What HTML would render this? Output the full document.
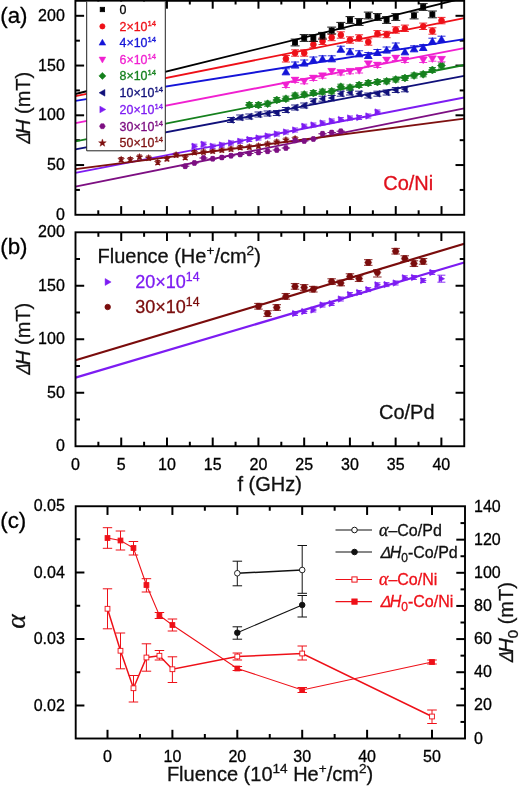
<!DOCTYPE html><html><head><meta charset="utf-8"><title>Figure</title><style>html,body{margin:0;padding:0;background:#fff}svg{display:block}text{font-family:"Liberation Sans", sans-serif;stroke-width:.3px}</style></head><body>
<svg width="520" height="786" viewBox="0 0 520 786">
<rect width="520" height="786" fill="#fff"/>
<clipPath id="ca"><rect x="75.40" y="0.00" width="388.80" height="214.80"/></clipPath>
<line x1="98.28" y1="214.80" x2="98.28" y2="210.30" stroke="#000" stroke-width="2" />
<line x1="98.28" y1="0.00" x2="98.28" y2="4.50" stroke="#000" stroke-width="2" />
<line x1="121.17" y1="214.80" x2="121.17" y2="206.10" stroke="#000" stroke-width="2" />
<line x1="121.17" y1="0.00" x2="121.17" y2="8.70" stroke="#000" stroke-width="2" />
<line x1="144.05" y1="214.80" x2="144.05" y2="210.30" stroke="#000" stroke-width="2" />
<line x1="144.05" y1="0.00" x2="144.05" y2="4.50" stroke="#000" stroke-width="2" />
<line x1="166.93" y1="214.80" x2="166.93" y2="206.10" stroke="#000" stroke-width="2" />
<line x1="166.93" y1="0.00" x2="166.93" y2="8.70" stroke="#000" stroke-width="2" />
<line x1="189.81" y1="214.80" x2="189.81" y2="210.30" stroke="#000" stroke-width="2" />
<line x1="189.81" y1="0.00" x2="189.81" y2="4.50" stroke="#000" stroke-width="2" />
<line x1="212.70" y1="214.80" x2="212.70" y2="206.10" stroke="#000" stroke-width="2" />
<line x1="212.70" y1="0.00" x2="212.70" y2="8.70" stroke="#000" stroke-width="2" />
<line x1="235.58" y1="214.80" x2="235.58" y2="210.30" stroke="#000" stroke-width="2" />
<line x1="235.58" y1="0.00" x2="235.58" y2="4.50" stroke="#000" stroke-width="2" />
<line x1="258.46" y1="214.80" x2="258.46" y2="206.10" stroke="#000" stroke-width="2" />
<line x1="258.46" y1="0.00" x2="258.46" y2="8.70" stroke="#000" stroke-width="2" />
<line x1="281.34" y1="214.80" x2="281.34" y2="210.30" stroke="#000" stroke-width="2" />
<line x1="281.34" y1="0.00" x2="281.34" y2="4.50" stroke="#000" stroke-width="2" />
<line x1="304.23" y1="214.80" x2="304.23" y2="206.10" stroke="#000" stroke-width="2" />
<line x1="304.23" y1="0.00" x2="304.23" y2="8.70" stroke="#000" stroke-width="2" />
<line x1="327.11" y1="214.80" x2="327.11" y2="210.30" stroke="#000" stroke-width="2" />
<line x1="327.11" y1="0.00" x2="327.11" y2="4.50" stroke="#000" stroke-width="2" />
<line x1="349.99" y1="214.80" x2="349.99" y2="206.10" stroke="#000" stroke-width="2" />
<line x1="349.99" y1="0.00" x2="349.99" y2="8.70" stroke="#000" stroke-width="2" />
<line x1="372.87" y1="214.80" x2="372.87" y2="210.30" stroke="#000" stroke-width="2" />
<line x1="372.87" y1="0.00" x2="372.87" y2="4.50" stroke="#000" stroke-width="2" />
<line x1="395.75" y1="214.80" x2="395.75" y2="206.10" stroke="#000" stroke-width="2" />
<line x1="395.75" y1="0.00" x2="395.75" y2="8.70" stroke="#000" stroke-width="2" />
<line x1="418.64" y1="214.80" x2="418.64" y2="210.30" stroke="#000" stroke-width="2" />
<line x1="418.64" y1="0.00" x2="418.64" y2="4.50" stroke="#000" stroke-width="2" />
<line x1="441.52" y1="214.80" x2="441.52" y2="206.10" stroke="#000" stroke-width="2" />
<line x1="441.52" y1="0.00" x2="441.52" y2="8.70" stroke="#000" stroke-width="2" />
<line x1="75.40" y1="189.93" x2="79.90" y2="189.93" stroke="#000" stroke-width="2" />
<line x1="464.20" y1="189.93" x2="459.70" y2="189.93" stroke="#000" stroke-width="2" />
<line x1="75.40" y1="165.05" x2="84.10" y2="165.05" stroke="#000" stroke-width="2" />
<line x1="464.20" y1="165.05" x2="455.50" y2="165.05" stroke="#000" stroke-width="2" />
<line x1="75.40" y1="140.18" x2="79.90" y2="140.18" stroke="#000" stroke-width="2" />
<line x1="464.20" y1="140.18" x2="459.70" y2="140.18" stroke="#000" stroke-width="2" />
<line x1="75.40" y1="115.30" x2="84.10" y2="115.30" stroke="#000" stroke-width="2" />
<line x1="464.20" y1="115.30" x2="455.50" y2="115.30" stroke="#000" stroke-width="2" />
<line x1="75.40" y1="90.43" x2="79.90" y2="90.43" stroke="#000" stroke-width="2" />
<line x1="464.20" y1="90.43" x2="459.70" y2="90.43" stroke="#000" stroke-width="2" />
<line x1="75.40" y1="65.55" x2="84.10" y2="65.55" stroke="#000" stroke-width="2" />
<line x1="464.20" y1="65.55" x2="455.50" y2="65.55" stroke="#000" stroke-width="2" />
<line x1="75.40" y1="40.68" x2="79.90" y2="40.68" stroke="#000" stroke-width="2" />
<line x1="464.20" y1="40.68" x2="459.70" y2="40.68" stroke="#000" stroke-width="2" />
<line x1="75.40" y1="15.80" x2="84.10" y2="15.80" stroke="#000" stroke-width="2" />
<line x1="464.20" y1="15.80" x2="455.50" y2="15.80" stroke="#000" stroke-width="2" />
<g clip-path="url(#ca)">
<line x1="75.40" y1="94.00" x2="464.20" y2="-2.00" stroke="#000000" stroke-width="1.85" />
<line x1="75.40" y1="96.20" x2="464.20" y2="18.20" stroke="#ee1018" stroke-width="1.85" />
<line x1="75.40" y1="100.90" x2="464.20" y2="39.10" stroke="#1414d8" stroke-width="1.85" />
<line x1="75.40" y1="123.10" x2="464.20" y2="48.20" stroke="#f020d0" stroke-width="1.85" />
<line x1="75.40" y1="141.30" x2="464.20" y2="65.00" stroke="#15801d" stroke-width="1.85" />
<line x1="75.40" y1="149.40" x2="464.20" y2="75.80" stroke="#10107a" stroke-width="1.85" />
<line x1="75.40" y1="172.90" x2="464.20" y2="97.50" stroke="#7d1cf2" stroke-width="1.85" />
<line x1="75.40" y1="186.60" x2="464.20" y2="108.30" stroke="#7d0f82" stroke-width="1.85" />
<line x1="75.40" y1="169.20" x2="464.20" y2="118.70" stroke="#7e1010" stroke-width="1.85" />
</g>
<path d="M121.2 157.5V161.5M118.7 157.5H123.7M118.7 161.5H123.7" stroke="#7e1010" stroke-width="0.9" fill="none"/>
<path d="M130.3 157.5V161.5M127.8 157.5H132.8M127.8 161.5H132.8" stroke="#7e1010" stroke-width="0.9" fill="none"/>
<path d="M139.5 155.0V159.0M137.0 155.0H142.0M137.0 159.0H142.0" stroke="#7e1010" stroke-width="0.9" fill="none"/>
<path d="M148.6 156.0V160.0M146.1 156.0H151.1M146.1 160.0H151.1" stroke="#7e1010" stroke-width="0.9" fill="none"/>
<path d="M157.8 160.5V164.5M155.3 160.5H160.3M155.3 164.5H160.3" stroke="#7e1010" stroke-width="0.9" fill="none"/>
<path d="M166.9 156.8V160.8M164.4 156.8H169.4M164.4 160.8H169.4" stroke="#7e1010" stroke-width="0.9" fill="none"/>
<path d="M176.1 153.0V157.0M173.6 153.0H178.6M173.6 157.0H178.6" stroke="#7e1010" stroke-width="0.9" fill="none"/>
<path d="M185.2 155.5V159.5M182.7 155.5H187.7M182.7 159.5H187.7" stroke="#7e1010" stroke-width="0.9" fill="none"/>
<path d="M194.4 150.5V154.5M191.9 150.5H196.9M191.9 154.5H196.9" stroke="#7e1010" stroke-width="0.9" fill="none"/>
<path d="M203.5 150.0V154.0M201.0 150.0H206.0M201.0 154.0H206.0" stroke="#7e1010" stroke-width="0.9" fill="none"/>
<path d="M212.7 149.0V153.0M210.2 149.0H215.2M210.2 153.0H215.2" stroke="#7e1010" stroke-width="0.9" fill="none"/>
<path d="M221.8 148.0V152.0M219.3 148.0H224.3M219.3 152.0H224.3" stroke="#7e1010" stroke-width="0.9" fill="none"/>
<path d="M231.0 147.0V151.0M228.5 147.0H233.5M228.5 151.0H233.5" stroke="#7e1010" stroke-width="0.9" fill="none"/>
<path d="M240.2 145.5V149.5M237.7 145.5H242.7M237.7 149.5H242.7" stroke="#7e1010" stroke-width="0.9" fill="none"/>
<path d="M249.3 145.0V149.0M246.8 145.0H251.8M246.8 149.0H251.8" stroke="#7e1010" stroke-width="0.9" fill="none"/>
<path d="M258.5 144.0V148.0M256.0 144.0H261.0M256.0 148.0H261.0" stroke="#7e1010" stroke-width="0.9" fill="none"/>
<path d="M267.6 142.0V146.0M265.1 142.0H270.1M265.1 146.0H270.1" stroke="#7e1010" stroke-width="0.9" fill="none"/>
<path d="M276.8 140.0V144.0M274.3 140.0H279.3M274.3 144.0H279.3" stroke="#7e1010" stroke-width="0.9" fill="none"/>
<path d="M285.9 138.0V142.0M283.4 138.0H288.4M283.4 142.0H288.4" stroke="#7e1010" stroke-width="0.9" fill="none"/>
<path d="M295.1 136.8V140.8M292.6 136.8H297.6M292.6 140.8H297.6" stroke="#7e1010" stroke-width="0.9" fill="none"/>
<polygon points="121.17,155.91 122.04,158.30 124.58,158.39 122.57,159.96 123.27,162.40 121.17,160.98 119.06,162.40 119.76,159.96 117.75,158.39 120.29,158.30" fill="#7e1010" stroke="#7e1010" stroke-width="0.4"/>
<polygon points="130.32,155.91 131.19,158.30 133.73,158.39 131.73,159.96 132.43,162.40 130.32,160.98 128.21,162.40 128.91,159.96 126.91,158.39 129.45,158.30" fill="#7e1010" stroke="#7e1010" stroke-width="0.4"/>
<polygon points="139.47,153.41 140.34,155.80 142.88,155.89 140.88,157.46 141.58,159.90 139.47,158.48 137.36,159.90 138.06,157.46 136.06,155.89 138.60,155.80" fill="#7e1010" stroke="#7e1010" stroke-width="0.4"/>
<polygon points="148.62,154.41 149.50,156.80 152.04,156.89 150.03,158.46 150.73,160.90 148.62,159.48 146.52,160.90 147.21,158.46 145.21,156.89 147.75,156.80" fill="#7e1010" stroke="#7e1010" stroke-width="0.4"/>
<polygon points="157.78,158.91 158.65,161.30 161.19,161.39 159.19,162.96 159.89,165.40 157.78,163.98 155.67,165.40 156.37,162.96 154.36,161.39 156.91,161.30" fill="#7e1010" stroke="#7e1010" stroke-width="0.4"/>
<polygon points="166.93,155.16 167.80,157.55 170.34,157.64 168.34,159.21 169.04,161.65 166.93,160.23 164.82,161.65 165.52,159.21 163.52,157.64 166.06,157.55" fill="#7e1010" stroke="#7e1010" stroke-width="0.4"/>
<polygon points="176.08,151.41 176.95,153.80 179.50,153.89 177.49,155.46 178.19,157.90 176.08,156.48 173.97,157.90 174.67,155.46 172.67,153.89 175.21,153.80" fill="#7e1010" stroke="#7e1010" stroke-width="0.4"/>
<polygon points="185.24,153.91 186.11,156.30 188.65,156.39 186.65,157.96 187.34,160.40 185.24,158.98 183.13,160.40 183.83,157.96 181.82,156.39 184.36,156.30" fill="#7e1010" stroke="#7e1010" stroke-width="0.4"/>
<polygon points="194.39,148.91 195.26,151.30 197.80,151.39 195.80,152.96 196.50,155.40 194.39,153.98 192.28,155.40 192.98,152.96 190.98,151.39 193.52,151.30" fill="#7e1010" stroke="#7e1010" stroke-width="0.4"/>
<polygon points="203.54,148.41 204.41,150.80 206.95,150.89 204.95,152.46 205.65,154.90 203.54,153.48 201.43,154.90 202.13,152.46 200.13,150.89 202.67,150.80" fill="#7e1010" stroke="#7e1010" stroke-width="0.4"/>
<polygon points="212.70,147.41 213.57,149.80 216.11,149.89 214.10,151.46 214.80,153.90 212.70,152.48 210.59,153.90 211.29,151.46 209.28,149.89 211.82,149.80" fill="#7e1010" stroke="#7e1010" stroke-width="0.4"/>
<polygon points="221.85,146.41 222.72,148.80 225.26,148.89 223.26,150.46 223.96,152.90 221.85,151.48 219.74,152.90 220.44,150.46 218.44,148.89 220.98,148.80" fill="#7e1010" stroke="#7e1010" stroke-width="0.4"/>
<polygon points="231.00,145.41 231.87,147.80 234.41,147.89 232.41,149.46 233.11,151.90 231.00,150.48 228.89,151.90 229.59,149.46 227.59,147.89 230.13,147.80" fill="#7e1010" stroke="#7e1010" stroke-width="0.4"/>
<polygon points="240.15,143.91 241.03,146.30 243.57,146.39 241.56,147.96 242.26,150.40 240.15,148.98 238.05,150.40 238.74,147.96 236.74,146.39 239.28,146.30" fill="#7e1010" stroke="#7e1010" stroke-width="0.4"/>
<polygon points="249.31,143.41 250.18,145.80 252.72,145.89 250.72,147.46 251.42,149.90 249.31,148.48 247.20,149.90 247.90,147.46 245.89,145.89 248.44,145.80" fill="#7e1010" stroke="#7e1010" stroke-width="0.4"/>
<polygon points="258.46,142.41 259.33,144.80 261.87,144.89 259.87,146.46 260.57,148.90 258.46,147.48 256.35,148.90 257.05,146.46 255.05,144.89 257.59,144.80" fill="#7e1010" stroke="#7e1010" stroke-width="0.4"/>
<polygon points="267.61,140.41 268.48,142.80 271.03,142.89 269.02,144.46 269.72,146.90 267.61,145.48 265.50,146.90 266.20,144.46 264.20,142.89 266.74,142.80" fill="#7e1010" stroke="#7e1010" stroke-width="0.4"/>
<polygon points="276.77,138.41 277.64,140.80 280.18,140.89 278.18,142.46 278.87,144.90 276.77,143.48 274.66,144.90 275.36,142.46 273.35,140.89 275.89,140.80" fill="#7e1010" stroke="#7e1010" stroke-width="0.4"/>
<polygon points="285.92,136.41 286.79,138.80 289.33,138.89 287.33,140.46 288.03,142.90 285.92,141.48 283.81,142.90 284.51,140.46 282.51,138.89 285.05,138.80" fill="#7e1010" stroke="#7e1010" stroke-width="0.4"/>
<polygon points="295.07,135.16 295.94,137.55 298.48,137.64 296.48,139.21 297.18,141.65 295.07,140.23 292.96,141.65 293.66,139.21 291.66,137.64 294.20,137.55" fill="#7e1010" stroke="#7e1010" stroke-width="0.4"/>
<path d="M185.2 164.4V168.1M183.2 164.4H187.2M183.2 168.1H187.2" stroke="#7d0f82" stroke-width="0.9" fill="none"/>
<path d="M181.0 166.2H189.4M181.0 166.2V166.2M189.4 166.2V166.2" stroke="#7d0f82" stroke-width="1.0" fill="none"/>
<path d="M194.4 161.2V164.8M192.4 161.2H196.4M192.4 164.8H196.4" stroke="#7d0f82" stroke-width="0.9" fill="none"/>
<path d="M190.2 163.0H198.6M190.2 163.0V163.0M198.6 163.0V163.0" stroke="#7d0f82" stroke-width="1.0" fill="none"/>
<path d="M203.5 156.2V159.8M201.5 156.2H205.5M201.5 159.8H205.5" stroke="#7d0f82" stroke-width="0.9" fill="none"/>
<path d="M199.3 158.0H207.7M199.3 158.0V158.0M207.7 158.0V158.0" stroke="#7d0f82" stroke-width="1.0" fill="none"/>
<path d="M212.7 156.9V160.6M210.7 156.9H214.7M210.7 160.6H214.7" stroke="#7d0f82" stroke-width="0.9" fill="none"/>
<path d="M208.5 158.8H216.9M208.5 158.8V158.8M216.9 158.8V158.8" stroke="#7d0f82" stroke-width="1.0" fill="none"/>
<path d="M221.8 155.7V159.3M219.8 155.7H223.8M219.8 159.3H223.8" stroke="#7d0f82" stroke-width="0.9" fill="none"/>
<path d="M217.6 157.5H226.0M217.6 157.5V157.5M226.0 157.5V157.5" stroke="#7d0f82" stroke-width="1.0" fill="none"/>
<path d="M231.0 153.9V157.6M229.0 153.9H233.0M229.0 157.6H233.0" stroke="#7d0f82" stroke-width="0.9" fill="none"/>
<path d="M226.8 155.8H235.2M226.8 155.8V155.8M235.2 155.8V155.8" stroke="#7d0f82" stroke-width="1.0" fill="none"/>
<path d="M240.2 152.7V156.3M238.2 152.7H242.2M238.2 156.3H242.2" stroke="#7d0f82" stroke-width="0.9" fill="none"/>
<path d="M236.0 154.5H244.4M236.0 154.5V154.5M244.4 154.5V154.5" stroke="#7d0f82" stroke-width="1.0" fill="none"/>
<path d="M249.3 151.7V155.3M247.3 151.7H251.3M247.3 155.3H251.3" stroke="#7d0f82" stroke-width="0.9" fill="none"/>
<path d="M245.1 153.5H253.5M245.1 153.5V153.5M253.5 153.5V153.5" stroke="#7d0f82" stroke-width="1.0" fill="none"/>
<path d="M258.5 150.7V154.3M256.5 150.7H260.5M256.5 154.3H260.5" stroke="#7d0f82" stroke-width="0.9" fill="none"/>
<path d="M254.3 152.5H262.7M254.3 152.5V152.5M262.7 152.5V152.5" stroke="#7d0f82" stroke-width="1.0" fill="none"/>
<path d="M267.6 149.4V153.1M265.6 149.4H269.6M265.6 153.1H269.6" stroke="#7d0f82" stroke-width="0.9" fill="none"/>
<path d="M263.4 151.2H271.8M263.4 151.2V151.2M271.8 151.2V151.2" stroke="#7d0f82" stroke-width="1.0" fill="none"/>
<path d="M276.8 148.2V151.8M274.8 148.2H278.8M274.8 151.8H278.8" stroke="#7d0f82" stroke-width="0.9" fill="none"/>
<path d="M272.6 150.0H281.0M272.6 150.0V150.0M281.0 150.0V150.0" stroke="#7d0f82" stroke-width="1.0" fill="none"/>
<path d="M285.9 146.2V149.8M283.9 146.2H287.9M283.9 149.8H287.9" stroke="#7d0f82" stroke-width="0.9" fill="none"/>
<path d="M281.7 148.0H290.1M281.7 148.0V148.0M290.1 148.0V148.0" stroke="#7d0f82" stroke-width="1.0" fill="none"/>
<path d="M295.1 138.7V142.3M293.1 138.7H297.1M293.1 142.3H297.1" stroke="#7d0f82" stroke-width="0.9" fill="none"/>
<path d="M290.9 140.5H299.3M290.9 140.5V140.5M299.3 140.5V140.5" stroke="#7d0f82" stroke-width="1.0" fill="none"/>
<path d="M304.2 139.2V142.8M302.2 139.2H306.2M302.2 142.8H306.2" stroke="#7d0f82" stroke-width="0.9" fill="none"/>
<path d="M300.0 141.0H308.4M300.0 141.0V141.0M308.4 141.0V141.0" stroke="#7d0f82" stroke-width="1.0" fill="none"/>
<path d="M313.4 137.2V140.8M311.4 137.2H315.4M311.4 140.8H315.4" stroke="#7d0f82" stroke-width="0.9" fill="none"/>
<path d="M309.2 139.0H317.6M309.2 139.0V139.0M317.6 139.0V139.0" stroke="#7d0f82" stroke-width="1.0" fill="none"/>
<path d="M322.5 131.9V135.6M320.5 131.9H324.5M320.5 135.6H324.5" stroke="#7d0f82" stroke-width="0.9" fill="none"/>
<path d="M318.3 133.8H326.7M318.3 133.8V133.8M326.7 133.8V133.8" stroke="#7d0f82" stroke-width="1.0" fill="none"/>
<path d="M331.7 130.7V134.3M329.7 130.7H333.7M329.7 134.3H333.7" stroke="#7d0f82" stroke-width="0.9" fill="none"/>
<path d="M327.5 132.5H335.9M327.5 132.5V132.5M335.9 132.5V132.5" stroke="#7d0f82" stroke-width="1.0" fill="none"/>
<path d="M340.8 129.4V133.1M338.8 129.4H342.8M338.8 133.1H342.8" stroke="#7d0f82" stroke-width="0.9" fill="none"/>
<path d="M336.6 131.2H345.0M336.6 131.2V131.2M345.0 131.2V131.2" stroke="#7d0f82" stroke-width="1.0" fill="none"/>
<polygon points="188.04,166.25 186.64,168.68 183.83,168.68 182.43,166.25 183.83,163.82 186.64,163.82" fill="#7d0f82" stroke="#7d0f82" stroke-width="0.5"/>
<polygon points="197.19,163.00 195.79,165.43 192.99,165.43 191.58,163.00 192.99,160.57 195.79,160.57" fill="#7d0f82" stroke="#7d0f82" stroke-width="0.5"/>
<polygon points="206.35,158.00 204.94,160.43 202.14,160.43 200.74,158.00 202.14,155.57 204.94,155.57" fill="#7d0f82" stroke="#7d0f82" stroke-width="0.5"/>
<polygon points="215.50,158.75 214.10,161.18 211.29,161.18 209.89,158.75 211.29,156.32 214.10,156.32" fill="#7d0f82" stroke="#7d0f82" stroke-width="0.5"/>
<polygon points="224.65,157.50 223.25,159.93 220.45,159.93 219.04,157.50 220.45,155.07 223.25,155.07" fill="#7d0f82" stroke="#7d0f82" stroke-width="0.5"/>
<polygon points="233.81,155.75 232.40,158.18 229.60,158.18 228.20,155.75 229.60,153.32 232.40,153.32" fill="#7d0f82" stroke="#7d0f82" stroke-width="0.5"/>
<polygon points="242.96,154.50 241.56,156.93 238.75,156.93 237.35,154.50 238.75,152.07 241.56,152.07" fill="#7d0f82" stroke="#7d0f82" stroke-width="0.5"/>
<polygon points="252.11,153.50 250.71,155.93 247.90,155.93 246.50,153.50 247.90,151.07 250.71,151.07" fill="#7d0f82" stroke="#7d0f82" stroke-width="0.5"/>
<polygon points="261.27,152.50 259.86,154.93 257.06,154.93 255.66,152.50 257.06,150.07 259.86,150.07" fill="#7d0f82" stroke="#7d0f82" stroke-width="0.5"/>
<polygon points="270.42,151.25 269.02,153.68 266.21,153.68 264.81,151.25 266.21,148.82 269.02,148.82" fill="#7d0f82" stroke="#7d0f82" stroke-width="0.5"/>
<polygon points="279.57,150.00 278.17,152.43 275.36,152.43 273.96,150.00 275.36,147.57 278.17,147.57" fill="#7d0f82" stroke="#7d0f82" stroke-width="0.5"/>
<polygon points="288.72,148.00 287.32,150.43 284.52,150.43 283.11,148.00 284.52,145.57 287.32,145.57" fill="#7d0f82" stroke="#7d0f82" stroke-width="0.5"/>
<polygon points="297.88,140.50 296.47,142.93 293.67,142.93 292.27,140.50 293.67,138.07 296.47,138.07" fill="#7d0f82" stroke="#7d0f82" stroke-width="0.5"/>
<polygon points="307.03,141.00 305.63,143.43 302.82,143.43 301.42,141.00 302.82,138.57 305.63,138.57" fill="#7d0f82" stroke="#7d0f82" stroke-width="0.5"/>
<polygon points="316.18,139.00 314.78,141.43 311.98,141.43 310.57,139.00 311.98,136.57 314.78,136.57" fill="#7d0f82" stroke="#7d0f82" stroke-width="0.5"/>
<polygon points="325.34,133.75 323.93,136.18 321.13,136.18 319.73,133.75 321.13,131.32 323.93,131.32" fill="#7d0f82" stroke="#7d0f82" stroke-width="0.5"/>
<polygon points="334.49,132.50 333.09,134.93 330.28,134.93 328.88,132.50 330.28,130.07 333.09,130.07" fill="#7d0f82" stroke="#7d0f82" stroke-width="0.5"/>
<polygon points="343.64,131.25 342.24,133.68 339.43,133.68 338.03,131.25 339.43,128.82 342.24,128.82" fill="#7d0f82" stroke="#7d0f82" stroke-width="0.5"/>
<path d="M194.4 144.2V148.2M191.4 144.2H197.4M191.4 148.2H197.4" stroke="#7d1cf2" stroke-width="0.9" fill="none"/>
<path d="M203.5 142.2V146.2M200.5 142.2H206.5M200.5 146.2H206.5" stroke="#7d1cf2" stroke-width="0.9" fill="none"/>
<path d="M212.7 144.2V148.2M209.7 144.2H215.7M209.7 148.2H215.7" stroke="#7d1cf2" stroke-width="0.9" fill="none"/>
<path d="M221.8 143.0V147.0M218.8 143.0H224.8M218.8 147.0H224.8" stroke="#7d1cf2" stroke-width="0.9" fill="none"/>
<path d="M231.0 141.0V145.0M228.0 141.0H234.0M228.0 145.0H234.0" stroke="#7d1cf2" stroke-width="0.9" fill="none"/>
<path d="M240.2 139.2V143.2M237.2 139.2H243.2M237.2 143.2H243.2" stroke="#7d1cf2" stroke-width="0.9" fill="none"/>
<path d="M249.3 137.5V141.5M246.3 137.5H252.3M246.3 141.5H252.3" stroke="#7d1cf2" stroke-width="0.9" fill="none"/>
<path d="M258.5 136.0V140.0M255.5 136.0H261.5M255.5 140.0H261.5" stroke="#7d1cf2" stroke-width="0.9" fill="none"/>
<path d="M267.6 134.0V138.0M264.6 134.0H270.6M264.6 138.0H270.6" stroke="#7d1cf2" stroke-width="0.9" fill="none"/>
<path d="M276.8 132.0V136.0M273.8 132.0H279.8M273.8 136.0H279.8" stroke="#7d1cf2" stroke-width="0.9" fill="none"/>
<path d="M285.9 130.0V134.0M282.9 130.0H288.9M282.9 134.0H288.9" stroke="#7d1cf2" stroke-width="0.9" fill="none"/>
<path d="M295.1 128.0V132.0M292.1 128.0H298.1M292.1 132.0H298.1" stroke="#7d1cf2" stroke-width="0.9" fill="none"/>
<path d="M304.2 124.2V128.2M301.2 124.2H307.2M301.2 128.2H307.2" stroke="#7d1cf2" stroke-width="0.9" fill="none"/>
<path d="M313.4 123.0V127.0M310.4 123.0H316.4M310.4 127.0H316.4" stroke="#7d1cf2" stroke-width="0.9" fill="none"/>
<path d="M322.5 121.0V125.0M319.5 121.0H325.5M319.5 125.0H325.5" stroke="#7d1cf2" stroke-width="0.9" fill="none"/>
<path d="M331.7 119.0V123.0M328.7 119.0H334.7M328.7 123.0H334.7" stroke="#7d1cf2" stroke-width="0.9" fill="none"/>
<path d="M340.8 117.5V121.5M337.8 117.5H343.8M337.8 121.5H343.8" stroke="#7d1cf2" stroke-width="0.9" fill="none"/>
<path d="M350.0 116.0V120.0M347.0 116.0H353.0M347.0 120.0H353.0" stroke="#7d1cf2" stroke-width="0.9" fill="none"/>
<path d="M359.1 115.5V119.5M356.1 115.5H362.1M356.1 119.5H362.1" stroke="#7d1cf2" stroke-width="0.9" fill="none"/>
<path d="M368.3 114.0V118.0M365.3 114.0H371.3M365.3 118.0H371.3" stroke="#7d1cf2" stroke-width="0.9" fill="none"/>
<path d="M377.4 110.0V114.0M374.4 110.0H380.4M374.4 114.0H380.4" stroke="#7d1cf2" stroke-width="0.9" fill="none"/>
<polygon points="197.62,146.25 191.97,143.02 191.97,149.48" fill="#7d1cf2" stroke="#7d1cf2" stroke-width="0.5"/>
<polygon points="206.77,144.25 201.12,141.02 201.12,147.48" fill="#7d1cf2" stroke="#7d1cf2" stroke-width="0.5"/>
<polygon points="215.93,146.25 210.27,143.02 210.27,149.48" fill="#7d1cf2" stroke="#7d1cf2" stroke-width="0.5"/>
<polygon points="225.08,145.00 219.43,141.77 219.43,148.23" fill="#7d1cf2" stroke="#7d1cf2" stroke-width="0.5"/>
<polygon points="234.23,143.00 228.58,139.77 228.58,146.23" fill="#7d1cf2" stroke="#7d1cf2" stroke-width="0.5"/>
<polygon points="243.38,141.25 237.73,138.02 237.73,144.48" fill="#7d1cf2" stroke="#7d1cf2" stroke-width="0.5"/>
<polygon points="252.54,139.50 246.88,136.27 246.88,142.73" fill="#7d1cf2" stroke="#7d1cf2" stroke-width="0.5"/>
<polygon points="261.69,138.00 256.04,134.77 256.04,141.23" fill="#7d1cf2" stroke="#7d1cf2" stroke-width="0.5"/>
<polygon points="270.84,136.00 265.19,132.77 265.19,139.23" fill="#7d1cf2" stroke="#7d1cf2" stroke-width="0.5"/>
<polygon points="280.00,134.00 274.34,130.77 274.34,137.23" fill="#7d1cf2" stroke="#7d1cf2" stroke-width="0.5"/>
<polygon points="289.15,132.00 283.50,128.77 283.50,135.23" fill="#7d1cf2" stroke="#7d1cf2" stroke-width="0.5"/>
<polygon points="298.30,130.00 292.65,126.77 292.65,133.23" fill="#7d1cf2" stroke="#7d1cf2" stroke-width="0.5"/>
<polygon points="307.46,126.25 301.80,123.02 301.80,129.48" fill="#7d1cf2" stroke="#7d1cf2" stroke-width="0.5"/>
<polygon points="316.61,125.00 310.96,121.77 310.96,128.23" fill="#7d1cf2" stroke="#7d1cf2" stroke-width="0.5"/>
<polygon points="325.76,123.00 320.11,119.77 320.11,126.23" fill="#7d1cf2" stroke="#7d1cf2" stroke-width="0.5"/>
<polygon points="334.91,121.00 329.26,117.77 329.26,124.23" fill="#7d1cf2" stroke="#7d1cf2" stroke-width="0.5"/>
<polygon points="344.07,119.50 338.41,116.27 338.41,122.73" fill="#7d1cf2" stroke="#7d1cf2" stroke-width="0.5"/>
<polygon points="353.22,118.00 347.57,114.77 347.57,121.23" fill="#7d1cf2" stroke="#7d1cf2" stroke-width="0.5"/>
<polygon points="362.37,117.50 356.72,114.27 356.72,120.73" fill="#7d1cf2" stroke="#7d1cf2" stroke-width="0.5"/>
<polygon points="371.53,116.00 365.87,112.77 365.87,119.23" fill="#7d1cf2" stroke="#7d1cf2" stroke-width="0.5"/>
<polygon points="380.68,112.00 375.03,108.77 375.03,115.23" fill="#7d1cf2" stroke="#7d1cf2" stroke-width="0.5"/>
<path d="M231.0 117.5V122.5M227.0 117.5H235.0M227.0 122.5H235.0" stroke="#10107a" stroke-width="0.9" fill="none"/>
<path d="M240.2 115.0V120.0M236.2 115.0H244.2M236.2 120.0H244.2" stroke="#10107a" stroke-width="0.9" fill="none"/>
<path d="M249.3 114.0V119.0M245.3 114.0H253.3M245.3 119.0H253.3" stroke="#10107a" stroke-width="0.9" fill="none"/>
<path d="M258.5 112.0V117.0M254.5 112.0H262.5M254.5 117.0H262.5" stroke="#10107a" stroke-width="0.9" fill="none"/>
<path d="M267.6 111.0V116.0M263.6 111.0H271.6M263.6 116.0H271.6" stroke="#10107a" stroke-width="0.9" fill="none"/>
<path d="M276.8 110.5V115.5M272.8 110.5H280.8M272.8 115.5H280.8" stroke="#10107a" stroke-width="0.9" fill="none"/>
<path d="M285.9 107.5V112.5M281.9 107.5H289.9M281.9 112.5H289.9" stroke="#10107a" stroke-width="0.9" fill="none"/>
<path d="M295.1 105.0V110.0M291.1 105.0H299.1M291.1 110.0H299.1" stroke="#10107a" stroke-width="0.9" fill="none"/>
<path d="M304.2 103.0V108.0M300.2 103.0H308.2M300.2 108.0H308.2" stroke="#10107a" stroke-width="0.9" fill="none"/>
<path d="M313.4 98.8V103.8M309.4 98.8H317.4M309.4 103.8H317.4" stroke="#10107a" stroke-width="0.9" fill="none"/>
<path d="M322.5 96.2V101.2M318.5 96.2H326.5M318.5 101.2H326.5" stroke="#10107a" stroke-width="0.9" fill="none"/>
<path d="M331.7 95.5V100.5M327.7 95.5H335.7M327.7 100.5H335.7" stroke="#10107a" stroke-width="0.9" fill="none"/>
<path d="M340.8 91.2V96.2M336.8 91.2H344.8M336.8 96.2H344.8" stroke="#10107a" stroke-width="0.9" fill="none"/>
<path d="M350.0 90.0V95.0M346.0 90.0H354.0M346.0 95.0H354.0" stroke="#10107a" stroke-width="0.9" fill="none"/>
<path d="M359.1 91.2V96.2M355.1 91.2H363.1M355.1 96.2H363.1" stroke="#10107a" stroke-width="0.9" fill="none"/>
<path d="M368.3 93.0V98.0M364.3 93.0H372.3M364.3 98.0H372.3" stroke="#10107a" stroke-width="0.9" fill="none"/>
<path d="M377.4 91.2V96.2M373.4 91.2H381.4M373.4 96.2H381.4" stroke="#10107a" stroke-width="0.9" fill="none"/>
<path d="M386.6 90.0V95.0M382.6 90.0H390.6M382.6 95.0H390.6" stroke="#10107a" stroke-width="0.9" fill="none"/>
<path d="M395.8 87.5V92.5M391.8 87.5H399.8M391.8 92.5H399.8" stroke="#10107a" stroke-width="0.9" fill="none"/>
<path d="M404.9 86.8V91.8M400.9 86.8H408.9M400.9 91.8H408.9" stroke="#10107a" stroke-width="0.9" fill="none"/>
<polygon points="227.66,120.00 233.51,116.66 233.51,123.34" fill="#10107a" stroke="#10107a" stroke-width="0.5"/>
<polygon points="236.81,117.50 242.66,114.16 242.66,120.84" fill="#10107a" stroke="#10107a" stroke-width="0.5"/>
<polygon points="245.96,116.50 251.82,113.16 251.82,119.84" fill="#10107a" stroke="#10107a" stroke-width="0.5"/>
<polygon points="255.12,114.50 260.97,111.16 260.97,117.84" fill="#10107a" stroke="#10107a" stroke-width="0.5"/>
<polygon points="264.27,113.50 270.12,110.16 270.12,116.84" fill="#10107a" stroke="#10107a" stroke-width="0.5"/>
<polygon points="273.42,113.00 279.27,109.66 279.27,116.34" fill="#10107a" stroke="#10107a" stroke-width="0.5"/>
<polygon points="282.57,110.00 288.43,106.66 288.43,113.34" fill="#10107a" stroke="#10107a" stroke-width="0.5"/>
<polygon points="291.73,107.50 297.58,104.16 297.58,110.84" fill="#10107a" stroke="#10107a" stroke-width="0.5"/>
<polygon points="300.88,105.50 306.73,102.16 306.73,108.84" fill="#10107a" stroke="#10107a" stroke-width="0.5"/>
<polygon points="310.03,101.25 315.89,97.91 315.89,104.59" fill="#10107a" stroke="#10107a" stroke-width="0.5"/>
<polygon points="319.19,98.75 325.04,95.41 325.04,102.09" fill="#10107a" stroke="#10107a" stroke-width="0.5"/>
<polygon points="328.34,98.00 334.19,94.66 334.19,101.34" fill="#10107a" stroke="#10107a" stroke-width="0.5"/>
<polygon points="337.49,93.75 343.34,90.41 343.34,97.09" fill="#10107a" stroke="#10107a" stroke-width="0.5"/>
<polygon points="346.65,92.50 352.50,89.16 352.50,95.84" fill="#10107a" stroke="#10107a" stroke-width="0.5"/>
<polygon points="355.80,93.75 361.65,90.41 361.65,97.09" fill="#10107a" stroke="#10107a" stroke-width="0.5"/>
<polygon points="364.95,95.50 370.80,92.16 370.80,98.84" fill="#10107a" stroke="#10107a" stroke-width="0.5"/>
<polygon points="374.11,93.75 379.96,90.41 379.96,97.09" fill="#10107a" stroke="#10107a" stroke-width="0.5"/>
<polygon points="383.26,92.50 389.11,89.16 389.11,95.84" fill="#10107a" stroke="#10107a" stroke-width="0.5"/>
<polygon points="392.41,90.00 398.26,86.66 398.26,93.34" fill="#10107a" stroke="#10107a" stroke-width="0.5"/>
<polygon points="401.56,89.25 407.42,85.91 407.42,92.59" fill="#10107a" stroke="#10107a" stroke-width="0.5"/>
<path d="M249.3 102.5V107.5M245.8 102.5H252.8M245.8 107.5H252.8" stroke="#15801d" stroke-width="0.9" fill="none"/>
<path d="M258.5 102.5V107.5M255.0 102.5H262.0M255.0 107.5H262.0" stroke="#15801d" stroke-width="0.9" fill="none"/>
<path d="M267.6 101.2V106.2M264.1 101.2H271.1M264.1 106.2H271.1" stroke="#15801d" stroke-width="0.9" fill="none"/>
<path d="M276.8 97.5V102.5M273.3 97.5H280.3M273.3 102.5H280.3" stroke="#15801d" stroke-width="0.9" fill="none"/>
<path d="M285.9 96.2V101.2M282.4 96.2H289.4M282.4 101.2H289.4" stroke="#15801d" stroke-width="0.9" fill="none"/>
<path d="M295.1 93.0V98.0M291.6 93.0H298.6M291.6 98.0H298.6" stroke="#15801d" stroke-width="0.9" fill="none"/>
<path d="M304.2 92.0V97.0M300.7 92.0H307.7M300.7 97.0H307.7" stroke="#15801d" stroke-width="0.9" fill="none"/>
<path d="M313.4 90.5V95.5M309.9 90.5H316.9M309.9 95.5H316.9" stroke="#15801d" stroke-width="0.9" fill="none"/>
<path d="M322.5 89.2V94.2M319.0 89.2H326.0M319.0 94.2H326.0" stroke="#15801d" stroke-width="0.9" fill="none"/>
<path d="M331.7 88.8V93.8M328.2 88.8H335.2M328.2 93.8H335.2" stroke="#15801d" stroke-width="0.9" fill="none"/>
<path d="M340.8 84.2V89.2M337.3 84.2H344.3M337.3 89.2H344.3" stroke="#15801d" stroke-width="0.9" fill="none"/>
<path d="M350.0 85.0V90.0M346.5 85.0H353.5M346.5 90.0H353.5" stroke="#15801d" stroke-width="0.9" fill="none"/>
<path d="M359.1 82.5V87.5M355.6 82.5H362.6M355.6 87.5H362.6" stroke="#15801d" stroke-width="0.9" fill="none"/>
<path d="M368.3 80.5V85.5M364.8 80.5H371.8M364.8 85.5H371.8" stroke="#15801d" stroke-width="0.9" fill="none"/>
<path d="M377.4 79.5V84.5M373.9 79.5H380.9M373.9 84.5H380.9" stroke="#15801d" stroke-width="0.9" fill="none"/>
<path d="M386.6 78.8V83.8M383.1 78.8H390.1M383.1 83.8H390.1" stroke="#15801d" stroke-width="0.9" fill="none"/>
<path d="M395.8 77.0V82.0M392.3 77.0H399.3M392.3 82.0H399.3" stroke="#15801d" stroke-width="0.9" fill="none"/>
<path d="M404.9 75.5V80.5M401.4 75.5H408.4M401.4 80.5H408.4" stroke="#15801d" stroke-width="0.9" fill="none"/>
<path d="M414.1 73.0V78.0M410.6 73.0H417.6M410.6 78.0H417.6" stroke="#15801d" stroke-width="0.9" fill="none"/>
<path d="M423.2 71.8V76.8M419.7 71.8H426.7M419.7 76.8H426.7" stroke="#15801d" stroke-width="0.9" fill="none"/>
<path d="M432.4 67.5V72.5M428.9 67.5H435.9M428.9 72.5H435.9" stroke="#15801d" stroke-width="0.9" fill="none"/>
<path d="M441.5 63.0V68.0M438.0 63.0H445.0M438.0 68.0H445.0" stroke="#15801d" stroke-width="0.9" fill="none"/>
<polygon points="249.31,101.00 253.31,105.00 249.31,109.00 245.31,105.00" fill="#15801d" stroke="#15801d" stroke-width="0.5"/>
<polygon points="258.46,101.00 262.46,105.00 258.46,109.00 254.46,105.00" fill="#15801d" stroke="#15801d" stroke-width="0.5"/>
<polygon points="267.61,99.75 271.61,103.75 267.61,107.75 263.61,103.75" fill="#15801d" stroke="#15801d" stroke-width="0.5"/>
<polygon points="276.77,96.00 280.77,100.00 276.77,104.00 272.77,100.00" fill="#15801d" stroke="#15801d" stroke-width="0.5"/>
<polygon points="285.92,94.75 289.92,98.75 285.92,102.75 281.92,98.75" fill="#15801d" stroke="#15801d" stroke-width="0.5"/>
<polygon points="295.07,91.50 299.07,95.50 295.07,99.50 291.07,95.50" fill="#15801d" stroke="#15801d" stroke-width="0.5"/>
<polygon points="304.23,90.50 308.23,94.50 304.23,98.50 300.23,94.50" fill="#15801d" stroke="#15801d" stroke-width="0.5"/>
<polygon points="313.38,89.00 317.38,93.00 313.38,97.00 309.38,93.00" fill="#15801d" stroke="#15801d" stroke-width="0.5"/>
<polygon points="322.53,87.75 326.53,91.75 322.53,95.75 318.53,91.75" fill="#15801d" stroke="#15801d" stroke-width="0.5"/>
<polygon points="331.68,87.25 335.68,91.25 331.68,95.25 327.68,91.25" fill="#15801d" stroke="#15801d" stroke-width="0.5"/>
<polygon points="340.84,82.75 344.84,86.75 340.84,90.75 336.84,86.75" fill="#15801d" stroke="#15801d" stroke-width="0.5"/>
<polygon points="349.99,83.50 353.99,87.50 349.99,91.50 345.99,87.50" fill="#15801d" stroke="#15801d" stroke-width="0.5"/>
<polygon points="359.14,81.00 363.14,85.00 359.14,89.00 355.14,85.00" fill="#15801d" stroke="#15801d" stroke-width="0.5"/>
<polygon points="368.30,79.00 372.30,83.00 368.30,87.00 364.30,83.00" fill="#15801d" stroke="#15801d" stroke-width="0.5"/>
<polygon points="377.45,78.00 381.45,82.00 377.45,86.00 373.45,82.00" fill="#15801d" stroke="#15801d" stroke-width="0.5"/>
<polygon points="386.60,77.25 390.60,81.25 386.60,85.25 382.60,81.25" fill="#15801d" stroke="#15801d" stroke-width="0.5"/>
<polygon points="395.75,75.50 399.75,79.50 395.75,83.50 391.75,79.50" fill="#15801d" stroke="#15801d" stroke-width="0.5"/>
<polygon points="404.91,74.00 408.91,78.00 404.91,82.00 400.91,78.00" fill="#15801d" stroke="#15801d" stroke-width="0.5"/>
<polygon points="414.06,71.50 418.06,75.50 414.06,79.50 410.06,75.50" fill="#15801d" stroke="#15801d" stroke-width="0.5"/>
<polygon points="423.21,70.25 427.21,74.25 423.21,78.25 419.21,74.25" fill="#15801d" stroke="#15801d" stroke-width="0.5"/>
<polygon points="432.37,66.00 436.37,70.00 432.37,74.00 428.37,70.00" fill="#15801d" stroke="#15801d" stroke-width="0.5"/>
<polygon points="441.52,61.50 445.52,65.50 441.52,69.50 437.52,65.50" fill="#15801d" stroke="#15801d" stroke-width="0.5"/>
<path d="M285.9 82.5V87.5M281.9 82.5H289.9M281.9 87.5H289.9" stroke="#f020d0" stroke-width="0.9" fill="none"/>
<path d="M295.1 77.5V82.5M291.1 77.5H299.1M291.1 82.5H299.1" stroke="#f020d0" stroke-width="0.9" fill="none"/>
<path d="M304.2 78.8V83.8M300.2 78.8H308.2M300.2 83.8H308.2" stroke="#f020d0" stroke-width="0.9" fill="none"/>
<path d="M313.4 75.5V80.5M309.4 75.5H317.4M309.4 80.5H317.4" stroke="#f020d0" stroke-width="0.9" fill="none"/>
<path d="M322.5 73.2V78.2M318.5 73.2H326.5M318.5 78.2H326.5" stroke="#f020d0" stroke-width="0.9" fill="none"/>
<path d="M331.7 68.8V73.8M327.7 68.8H335.7M327.7 73.8H335.7" stroke="#f020d0" stroke-width="0.9" fill="none"/>
<path d="M340.8 70.0V75.0M336.8 70.0H344.8M336.8 75.0H344.8" stroke="#f020d0" stroke-width="0.9" fill="none"/>
<path d="M350.0 68.8V73.8M346.0 68.8H354.0M346.0 73.8H354.0" stroke="#f020d0" stroke-width="0.9" fill="none"/>
<path d="M359.1 68.0V73.0M355.1 68.0H363.1M355.1 73.0H363.1" stroke="#f020d0" stroke-width="0.9" fill="none"/>
<path d="M368.3 61.2V66.2M364.3 61.2H372.3M364.3 66.2H372.3" stroke="#f020d0" stroke-width="0.9" fill="none"/>
<path d="M377.4 62.5V67.5M373.4 62.5H381.4M373.4 67.5H381.4" stroke="#f020d0" stroke-width="0.9" fill="none"/>
<path d="M386.6 57.5V62.5M382.6 57.5H390.6M382.6 62.5H390.6" stroke="#f020d0" stroke-width="0.9" fill="none"/>
<path d="M395.8 55.5V60.5M391.8 55.5H399.8M391.8 60.5H399.8" stroke="#f020d0" stroke-width="0.9" fill="none"/>
<path d="M404.9 57.5V62.5M400.9 57.5H408.9M400.9 62.5H408.9" stroke="#f020d0" stroke-width="0.9" fill="none"/>
<path d="M423.2 57.5V62.5M419.2 57.5H427.2M419.2 62.5H427.2" stroke="#f020d0" stroke-width="0.9" fill="none"/>
<path d="M432.4 56.2V61.2M428.4 56.2H436.4M428.4 61.2H436.4" stroke="#f020d0" stroke-width="0.9" fill="none"/>
<path d="M441.5 56.8V61.8M437.5 56.8H445.5M437.5 61.8H445.5" stroke="#f020d0" stroke-width="0.9" fill="none"/>
<polygon points="285.92,88.80 289.72,82.15 282.12,82.15" fill="#f020d0" stroke="#f020d0" stroke-width="0.5"/>
<polygon points="295.07,83.80 298.87,77.15 291.27,77.15" fill="#f020d0" stroke="#f020d0" stroke-width="0.5"/>
<polygon points="304.23,85.05 308.03,78.40 300.43,78.40" fill="#f020d0" stroke="#f020d0" stroke-width="0.5"/>
<polygon points="313.38,81.80 317.18,75.15 309.58,75.15" fill="#f020d0" stroke="#f020d0" stroke-width="0.5"/>
<polygon points="322.53,79.55 326.33,72.90 318.73,72.90" fill="#f020d0" stroke="#f020d0" stroke-width="0.5"/>
<polygon points="331.68,75.05 335.48,68.40 327.88,68.40" fill="#f020d0" stroke="#f020d0" stroke-width="0.5"/>
<polygon points="340.84,76.30 344.64,69.65 337.04,69.65" fill="#f020d0" stroke="#f020d0" stroke-width="0.5"/>
<polygon points="349.99,75.05 353.79,68.40 346.19,68.40" fill="#f020d0" stroke="#f020d0" stroke-width="0.5"/>
<polygon points="359.14,74.30 362.94,67.65 355.34,67.65" fill="#f020d0" stroke="#f020d0" stroke-width="0.5"/>
<polygon points="368.30,67.55 372.10,60.90 364.50,60.90" fill="#f020d0" stroke="#f020d0" stroke-width="0.5"/>
<polygon points="377.45,68.80 381.25,62.15 373.65,62.15" fill="#f020d0" stroke="#f020d0" stroke-width="0.5"/>
<polygon points="386.60,63.80 390.40,57.15 382.80,57.15" fill="#f020d0" stroke="#f020d0" stroke-width="0.5"/>
<polygon points="395.75,61.80 399.56,55.15 391.95,55.15" fill="#f020d0" stroke="#f020d0" stroke-width="0.5"/>
<polygon points="404.91,63.80 408.71,57.15 401.11,57.15" fill="#f020d0" stroke="#f020d0" stroke-width="0.5"/>
<polygon points="423.21,63.80 427.01,57.15 419.41,57.15" fill="#f020d0" stroke="#f020d0" stroke-width="0.5"/>
<polygon points="432.37,62.55 436.17,55.90 428.57,55.90" fill="#f020d0" stroke="#f020d0" stroke-width="0.5"/>
<polygon points="441.52,63.05 445.32,56.40 437.72,56.40" fill="#f020d0" stroke="#f020d0" stroke-width="0.5"/>
<path d="M285.9 68.8V74.8M281.9 68.8H289.9M281.9 74.8H289.9" stroke="#1414d8" stroke-width="0.9" fill="none"/>
<path d="M295.1 62.0V68.0M291.1 62.0H299.1M291.1 68.0H299.1" stroke="#1414d8" stroke-width="0.9" fill="none"/>
<path d="M304.2 60.0V66.0M300.2 60.0H308.2M300.2 66.0H308.2" stroke="#1414d8" stroke-width="0.9" fill="none"/>
<path d="M313.4 57.0V63.0M309.4 57.0H317.4M309.4 63.0H317.4" stroke="#1414d8" stroke-width="0.9" fill="none"/>
<path d="M322.5 55.8V61.8M318.5 55.8H326.5M318.5 61.8H326.5" stroke="#1414d8" stroke-width="0.9" fill="none"/>
<path d="M331.7 55.8V61.8M327.7 55.8H335.7M327.7 61.8H335.7" stroke="#1414d8" stroke-width="0.9" fill="none"/>
<path d="M340.8 46.2V52.2M336.8 46.2H344.8M336.8 52.2H344.8" stroke="#1414d8" stroke-width="0.9" fill="none"/>
<path d="M350.0 48.8V54.8M346.0 48.8H354.0M346.0 54.8H354.0" stroke="#1414d8" stroke-width="0.9" fill="none"/>
<path d="M359.1 50.8V56.8M355.1 50.8H363.1M355.1 56.8H363.1" stroke="#1414d8" stroke-width="0.9" fill="none"/>
<path d="M368.3 52.5V58.5M364.3 52.5H372.3M364.3 58.5H372.3" stroke="#1414d8" stroke-width="0.9" fill="none"/>
<path d="M377.4 49.5V55.5M373.4 49.5H381.4M373.4 55.5H381.4" stroke="#1414d8" stroke-width="0.9" fill="none"/>
<path d="M386.6 47.0V53.0M382.6 47.0H390.6M382.6 53.0H390.6" stroke="#1414d8" stroke-width="0.9" fill="none"/>
<path d="M395.8 43.0V49.0M391.8 43.0H399.8M391.8 49.0H399.8" stroke="#1414d8" stroke-width="0.9" fill="none"/>
<path d="M404.9 48.8V54.8M400.9 48.8H408.9M400.9 54.8H408.9" stroke="#1414d8" stroke-width="0.9" fill="none"/>
<path d="M414.1 45.8V51.8M410.1 45.8H418.1M410.1 51.8H418.1" stroke="#1414d8" stroke-width="0.9" fill="none"/>
<path d="M423.2 44.5V50.5M419.2 44.5H427.2M419.2 50.5H427.2" stroke="#1414d8" stroke-width="0.9" fill="none"/>
<path d="M432.4 38.2V44.2M428.4 38.2H436.4M428.4 44.2H436.4" stroke="#1414d8" stroke-width="0.9" fill="none"/>
<path d="M441.5 36.2V42.2M437.5 36.2H445.5M437.5 42.2H445.5" stroke="#1414d8" stroke-width="0.9" fill="none"/>
<polygon points="285.92,67.95 289.72,74.60 282.12,74.60" fill="#1414d8" stroke="#1414d8" stroke-width="0.5"/>
<polygon points="295.07,61.20 298.87,67.85 291.27,67.85" fill="#1414d8" stroke="#1414d8" stroke-width="0.5"/>
<polygon points="304.23,59.20 308.03,65.85 300.43,65.85" fill="#1414d8" stroke="#1414d8" stroke-width="0.5"/>
<polygon points="313.38,56.20 317.18,62.85 309.58,62.85" fill="#1414d8" stroke="#1414d8" stroke-width="0.5"/>
<polygon points="322.53,54.95 326.33,61.60 318.73,61.60" fill="#1414d8" stroke="#1414d8" stroke-width="0.5"/>
<polygon points="331.68,54.95 335.48,61.60 327.88,61.60" fill="#1414d8" stroke="#1414d8" stroke-width="0.5"/>
<polygon points="340.84,45.45 344.64,52.10 337.04,52.10" fill="#1414d8" stroke="#1414d8" stroke-width="0.5"/>
<polygon points="349.99,47.95 353.79,54.60 346.19,54.60" fill="#1414d8" stroke="#1414d8" stroke-width="0.5"/>
<polygon points="359.14,49.95 362.94,56.60 355.34,56.60" fill="#1414d8" stroke="#1414d8" stroke-width="0.5"/>
<polygon points="368.30,51.70 372.10,58.35 364.50,58.35" fill="#1414d8" stroke="#1414d8" stroke-width="0.5"/>
<polygon points="377.45,48.70 381.25,55.35 373.65,55.35" fill="#1414d8" stroke="#1414d8" stroke-width="0.5"/>
<polygon points="386.60,46.20 390.40,52.85 382.80,52.85" fill="#1414d8" stroke="#1414d8" stroke-width="0.5"/>
<polygon points="395.75,42.20 399.56,48.85 391.95,48.85" fill="#1414d8" stroke="#1414d8" stroke-width="0.5"/>
<polygon points="404.91,47.95 408.71,54.60 401.11,54.60" fill="#1414d8" stroke="#1414d8" stroke-width="0.5"/>
<polygon points="414.06,44.95 417.86,51.60 410.26,51.60" fill="#1414d8" stroke="#1414d8" stroke-width="0.5"/>
<polygon points="423.21,43.70 427.01,50.35 419.41,50.35" fill="#1414d8" stroke="#1414d8" stroke-width="0.5"/>
<polygon points="432.37,37.45 436.17,44.10 428.57,44.10" fill="#1414d8" stroke="#1414d8" stroke-width="0.5"/>
<polygon points="441.52,35.45 445.32,42.10 437.72,42.10" fill="#1414d8" stroke="#1414d8" stroke-width="0.5"/>
<path d="M285.9 55.5V62.0M281.9 55.5H289.9M281.9 62.0H289.9" stroke="#ee1018" stroke-width="0.9" fill="none"/>
<path d="M295.1 49.8V56.2M291.1 49.8H299.1M291.1 56.2H299.1" stroke="#ee1018" stroke-width="0.9" fill="none"/>
<path d="M304.2 49.8V56.2M300.2 49.8H308.2M300.2 56.2H308.2" stroke="#ee1018" stroke-width="0.9" fill="none"/>
<path d="M313.4 41.3V47.7M309.4 41.3H317.4M309.4 47.7H317.4" stroke="#ee1018" stroke-width="0.9" fill="none"/>
<path d="M322.5 38.0V44.5M318.5 38.0H326.5M318.5 44.5H326.5" stroke="#ee1018" stroke-width="0.9" fill="none"/>
<path d="M331.7 34.3V40.7M327.7 34.3H335.7M327.7 40.7H335.7" stroke="#ee1018" stroke-width="0.9" fill="none"/>
<path d="M340.8 31.8V38.2M336.8 31.8H344.8M336.8 38.2H344.8" stroke="#ee1018" stroke-width="0.9" fill="none"/>
<path d="M350.0 36.8V43.2M346.0 36.8H354.0M346.0 43.2H354.0" stroke="#ee1018" stroke-width="0.9" fill="none"/>
<path d="M359.1 34.8V41.2M355.1 34.8H363.1M355.1 41.2H363.1" stroke="#ee1018" stroke-width="0.9" fill="none"/>
<path d="M368.3 38.8V45.2M364.3 38.8H372.3M364.3 45.2H372.3" stroke="#ee1018" stroke-width="0.9" fill="none"/>
<path d="M377.4 30.6V37.0M373.4 30.6H381.4M373.4 37.0H381.4" stroke="#ee1018" stroke-width="0.9" fill="none"/>
<path d="M386.6 31.3V37.7M382.6 31.3H390.6M382.6 37.7H390.6" stroke="#ee1018" stroke-width="0.9" fill="none"/>
<path d="M395.8 26.8V33.2M391.8 26.8H399.8M391.8 33.2H399.8" stroke="#ee1018" stroke-width="0.9" fill="none"/>
<path d="M404.9 25.1V31.5M400.9 25.1H408.9M400.9 31.5H408.9" stroke="#ee1018" stroke-width="0.9" fill="none"/>
<path d="M423.2 23.1V29.5M419.2 23.1H427.2M419.2 29.5H427.2" stroke="#ee1018" stroke-width="0.9" fill="none"/>
<path d="M432.4 27.8V34.2M428.4 27.8H436.4M428.4 34.2H436.4" stroke="#ee1018" stroke-width="0.9" fill="none"/>
<path d="M441.5 17.4V23.8M437.5 17.4H445.5M437.5 23.8H445.5" stroke="#ee1018" stroke-width="0.9" fill="none"/>
<circle cx="285.92" cy="58.75" r="2.90" fill="#ee1018" stroke="#ee1018" stroke-width="0.8"/>
<circle cx="295.07" cy="53.00" r="2.90" fill="#ee1018" stroke="#ee1018" stroke-width="0.8"/>
<circle cx="304.23" cy="53.00" r="2.90" fill="#ee1018" stroke="#ee1018" stroke-width="0.8"/>
<circle cx="313.38" cy="44.50" r="2.90" fill="#ee1018" stroke="#ee1018" stroke-width="0.8"/>
<circle cx="322.53" cy="41.25" r="2.90" fill="#ee1018" stroke="#ee1018" stroke-width="0.8"/>
<circle cx="331.68" cy="37.50" r="2.90" fill="#ee1018" stroke="#ee1018" stroke-width="0.8"/>
<circle cx="340.84" cy="35.00" r="2.90" fill="#ee1018" stroke="#ee1018" stroke-width="0.8"/>
<circle cx="349.99" cy="40.00" r="2.90" fill="#ee1018" stroke="#ee1018" stroke-width="0.8"/>
<circle cx="359.14" cy="38.00" r="2.90" fill="#ee1018" stroke="#ee1018" stroke-width="0.8"/>
<circle cx="368.30" cy="42.00" r="2.90" fill="#ee1018" stroke="#ee1018" stroke-width="0.8"/>
<circle cx="377.45" cy="33.75" r="2.90" fill="#ee1018" stroke="#ee1018" stroke-width="0.8"/>
<circle cx="386.60" cy="34.50" r="2.90" fill="#ee1018" stroke="#ee1018" stroke-width="0.8"/>
<circle cx="395.75" cy="30.00" r="2.90" fill="#ee1018" stroke="#ee1018" stroke-width="0.8"/>
<circle cx="404.91" cy="28.30" r="2.90" fill="#ee1018" stroke="#ee1018" stroke-width="0.8"/>
<circle cx="423.21" cy="26.30" r="2.90" fill="#ee1018" stroke="#ee1018" stroke-width="0.8"/>
<circle cx="432.37" cy="31.00" r="2.90" fill="#ee1018" stroke="#ee1018" stroke-width="0.8"/>
<circle cx="441.52" cy="20.60" r="2.90" fill="#ee1018" stroke="#ee1018" stroke-width="0.8"/>
<path d="M295.1 39.1V45.9M290.6 39.1H299.6M290.6 45.9H299.6" stroke="#000000" stroke-width="0.9" fill="none"/>
<path d="M304.2 34.6V41.4M299.7 34.6H308.7M299.7 41.4H308.7" stroke="#000000" stroke-width="0.9" fill="none"/>
<path d="M313.4 34.6V41.4M308.9 34.6H317.9M308.9 41.4H317.9" stroke="#000000" stroke-width="0.9" fill="none"/>
<path d="M322.5 32.4V39.1M318.0 32.4H327.0M318.0 39.1H327.0" stroke="#000000" stroke-width="0.9" fill="none"/>
<path d="M331.7 27.1V33.9M327.2 27.1H336.2M327.2 33.9H336.2" stroke="#000000" stroke-width="0.9" fill="none"/>
<path d="M340.8 22.4V29.1M336.3 22.4H345.3M336.3 29.1H345.3" stroke="#000000" stroke-width="0.9" fill="none"/>
<path d="M350.0 16.6V23.4M345.5 16.6H354.5M345.5 23.4H354.5" stroke="#000000" stroke-width="0.9" fill="none"/>
<path d="M359.1 18.6V25.4M354.6 18.6H363.6M354.6 25.4H363.6" stroke="#000000" stroke-width="0.9" fill="none"/>
<path d="M368.3 12.1V18.9M363.8 12.1H372.8M363.8 18.9H372.8" stroke="#000000" stroke-width="0.9" fill="none"/>
<path d="M377.4 13.6V20.4M372.9 13.6H381.9M372.9 20.4H381.9" stroke="#000000" stroke-width="0.9" fill="none"/>
<path d="M386.6 16.6V23.4M382.1 16.6H391.1M382.1 23.4H391.1" stroke="#000000" stroke-width="0.9" fill="none"/>
<path d="M395.8 13.6V20.4M391.3 13.6H400.3M391.3 20.4H400.3" stroke="#000000" stroke-width="0.9" fill="none"/>
<path d="M414.1 12.1V18.9M409.6 12.1H418.6M409.6 18.9H418.6" stroke="#000000" stroke-width="0.9" fill="none"/>
<path d="M423.2 3.6V10.4M418.7 3.6H427.7M418.7 10.4H427.7" stroke="#000000" stroke-width="0.9" fill="none"/>
<path d="M432.4 11.0V17.8M427.9 11.0H436.9M427.9 17.8H436.9" stroke="#000000" stroke-width="0.9" fill="none"/>
<rect x="292.57" y="40.00" width="5.00" height="5.00" fill="#000000" stroke="#000000" stroke-width="0.8"/>
<rect x="301.73" y="35.50" width="5.00" height="5.00" fill="#000000" stroke="#000000" stroke-width="0.8"/>
<rect x="310.88" y="35.50" width="5.00" height="5.00" fill="#000000" stroke="#000000" stroke-width="0.8"/>
<rect x="320.03" y="33.25" width="5.00" height="5.00" fill="#000000" stroke="#000000" stroke-width="0.8"/>
<rect x="329.18" y="28.00" width="5.00" height="5.00" fill="#000000" stroke="#000000" stroke-width="0.8"/>
<rect x="338.34" y="23.25" width="5.00" height="5.00" fill="#000000" stroke="#000000" stroke-width="0.8"/>
<rect x="347.49" y="17.50" width="5.00" height="5.00" fill="#000000" stroke="#000000" stroke-width="0.8"/>
<rect x="356.64" y="19.50" width="5.00" height="5.00" fill="#000000" stroke="#000000" stroke-width="0.8"/>
<rect x="365.80" y="13.00" width="5.00" height="5.00" fill="#000000" stroke="#000000" stroke-width="0.8"/>
<rect x="374.95" y="14.50" width="5.00" height="5.00" fill="#000000" stroke="#000000" stroke-width="0.8"/>
<rect x="384.10" y="17.50" width="5.00" height="5.00" fill="#000000" stroke="#000000" stroke-width="0.8"/>
<rect x="393.25" y="14.50" width="5.00" height="5.00" fill="#000000" stroke="#000000" stroke-width="0.8"/>
<rect x="411.56" y="13.00" width="5.00" height="5.00" fill="#000000" stroke="#000000" stroke-width="0.8"/>
<rect x="420.71" y="4.50" width="5.00" height="5.00" fill="#000000" stroke="#000000" stroke-width="0.8"/>
<rect x="429.87" y="11.90" width="5.00" height="5.00" fill="#000000" stroke="#000000" stroke-width="0.8"/>
<rect x="75.40" y="0.80" width="388.80" height="214.00" fill="none" stroke="#000" stroke-width="1.9"/>
<rect x="86.7" y="1.8" width="78.6" height="149" fill="#fff"/><path d="M86.7 1.8V150.8H165.3V1.8" fill="none" stroke="#222" stroke-width="1"/>
<rect x="100.20" y="7.30" width="4.40" height="4.40" fill="#000000" stroke="#000000" stroke-width="0.8"/>
<text x="119.60" y="13.90" font-size="12.4" text-anchor="start" fill="#000000" stroke="#000000" >0</text>
<circle cx="102.40" cy="26.40" r="2.55" fill="#ee1018" stroke="#ee1018" stroke-width="0.8"/>
<g transform="translate(119.60,30.80)" fill="#ee1018" stroke="#ee1018" style="font-kerning:none;white-space:pre">
<text xml:space="preserve" x="0.00" y="0.00" font-size="12.40" >2×10</text>
<text xml:space="preserve" x="27.93" y="-5.08" font-size="7.69" >14</text>
</g>
<polygon points="102.40,39.26 105.74,45.11 99.06,45.11" fill="#1414d8" stroke="#1414d8" stroke-width="0.5"/>
<g transform="translate(119.60,47.00)" fill="#1414d8" stroke="#1414d8" style="font-kerning:none;white-space:pre">
<text xml:space="preserve" x="0.00" y="0.00" font-size="12.40" >4×10</text>
<text xml:space="preserve" x="27.93" y="-5.08" font-size="7.69" >14</text>
</g>
<polygon points="102.40,62.94 105.74,57.09 99.06,57.09" fill="#f020d0" stroke="#f020d0" stroke-width="0.5"/>
<g transform="translate(119.60,64.00)" fill="#f020d0" stroke="#f020d0" style="font-kerning:none;white-space:pre">
<text xml:space="preserve" x="0.00" y="0.00" font-size="12.40" >6×10</text>
<text xml:space="preserve" x="27.93" y="-5.08" font-size="7.69" >14</text>
</g>
<polygon points="102.40,72.38 105.92,75.90 102.40,79.42 98.88,75.90" fill="#15801d" stroke="#15801d" stroke-width="0.5"/>
<g transform="translate(119.60,80.30)" fill="#15801d" stroke="#15801d" style="font-kerning:none;white-space:pre">
<text xml:space="preserve" x="0.00" y="0.00" font-size="12.40" >8×10</text>
<text xml:space="preserve" x="27.93" y="-5.08" font-size="7.69" >14</text>
</g>
<polygon points="99.06,92.80 104.91,89.46 104.91,96.14" fill="#10107a" stroke="#10107a" stroke-width="0.5"/>
<g transform="translate(119.60,97.20)" fill="#10107a" stroke="#10107a" style="font-kerning:none;white-space:pre">
<text xml:space="preserve" x="0.00" y="0.00" font-size="12.40" >10×10</text>
<text xml:space="preserve" x="34.83" y="-5.08" font-size="7.69" >14</text>
</g>
<polygon points="105.74,109.50 99.89,106.16 99.89,112.84" fill="#7d1cf2" stroke="#7d1cf2" stroke-width="0.5"/>
<g transform="translate(119.60,113.90)" fill="#7d1cf2" stroke="#7d1cf2" style="font-kerning:none;white-space:pre">
<text xml:space="preserve" x="0.00" y="0.00" font-size="12.40" >20×10</text>
<text xml:space="preserve" x="34.83" y="-5.08" font-size="7.69" >14</text>
</g>
<polygon points="105.30,126.20 103.85,128.71 100.95,128.71 99.50,126.20 100.95,123.69 103.85,123.69" fill="#7d0f82" stroke="#7d0f82" stroke-width="0.5"/>
<g transform="translate(119.60,130.60)" fill="#7d0f82" stroke="#7d0f82" style="font-kerning:none;white-space:pre">
<text xml:space="preserve" x="0.00" y="0.00" font-size="12.40" >30×10</text>
<text xml:space="preserve" x="34.83" y="-5.08" font-size="7.69" >14</text>
</g>
<polygon points="102.40,138.95 103.38,141.65 106.25,141.75 103.99,143.52 104.78,146.27 102.40,144.67 100.02,146.27 100.81,143.52 98.55,141.75 101.42,141.65" fill="#7e1010" stroke="#7e1010" stroke-width="0.4"/>
<g transform="translate(119.60,147.40)" fill="#7e1010" stroke="#7e1010" style="font-kerning:none;white-space:pre">
<text xml:space="preserve" x="0.00" y="0.00" font-size="12.40" >50×10</text>
<text xml:space="preserve" x="34.83" y="-5.08" font-size="7.69" >14</text>
</g>
<text x="64.80" y="219.90" font-size="16" text-anchor="end" fill="#000" stroke="#000" >0</text>
<text x="64.80" y="170.15" font-size="16" text-anchor="end" fill="#000" stroke="#000" >50</text>
<text x="64.80" y="120.40" font-size="16" text-anchor="end" fill="#000" stroke="#000" >100</text>
<text x="64.80" y="70.65" font-size="16" text-anchor="end" fill="#000" stroke="#000" >150</text>
<text x="64.80" y="20.90" font-size="16" text-anchor="end" fill="#000" stroke="#000" >200</text>
<text x="0.30" y="23.40" font-size="22.3" text-anchor="start" fill="#000" stroke="#000" >(a)</text>
<g transform="translate(29.80,108.50) rotate(-90)" fill="#111" stroke="#111" style="font-kerning:none;white-space:pre">
<text transform="translate(-35.91,0.00) skewX(-13) scale(0.84,1)" font-size="20.00">Δ</text>
<text xml:space="preserve" x="-25.49" y="0.00" font-size="20.00" font-style="italic">H</text>
<text xml:space="preserve" x="-11.04" y="0.00" font-size="20.00" > (mT)</text>
</g>
<text x="383.20" y="189.80" font-size="20" text-anchor="start" fill="#e0101c" stroke="#e0101c" >Co/Ni</text>
<clipPath id="cb"><rect x="75.50" y="232.30" width="388.75" height="213.95"/></clipPath>
<line x1="98.37" y1="446.25" x2="98.37" y2="441.75" stroke="#000" stroke-width="2" />
<line x1="98.37" y1="232.30" x2="98.37" y2="236.80" stroke="#000" stroke-width="2" />
<line x1="121.23" y1="446.25" x2="121.23" y2="437.55" stroke="#000" stroke-width="2" />
<line x1="121.23" y1="232.30" x2="121.23" y2="241.00" stroke="#000" stroke-width="2" />
<line x1="144.10" y1="446.25" x2="144.10" y2="441.75" stroke="#000" stroke-width="2" />
<line x1="144.10" y1="232.30" x2="144.10" y2="236.80" stroke="#000" stroke-width="2" />
<line x1="166.97" y1="446.25" x2="166.97" y2="437.55" stroke="#000" stroke-width="2" />
<line x1="166.97" y1="232.30" x2="166.97" y2="241.00" stroke="#000" stroke-width="2" />
<line x1="189.84" y1="446.25" x2="189.84" y2="441.75" stroke="#000" stroke-width="2" />
<line x1="189.84" y1="232.30" x2="189.84" y2="236.80" stroke="#000" stroke-width="2" />
<line x1="212.71" y1="446.25" x2="212.71" y2="437.55" stroke="#000" stroke-width="2" />
<line x1="212.71" y1="232.30" x2="212.71" y2="241.00" stroke="#000" stroke-width="2" />
<line x1="235.57" y1="446.25" x2="235.57" y2="441.75" stroke="#000" stroke-width="2" />
<line x1="235.57" y1="232.30" x2="235.57" y2="236.80" stroke="#000" stroke-width="2" />
<line x1="258.44" y1="446.25" x2="258.44" y2="437.55" stroke="#000" stroke-width="2" />
<line x1="258.44" y1="232.30" x2="258.44" y2="241.00" stroke="#000" stroke-width="2" />
<line x1="281.31" y1="446.25" x2="281.31" y2="441.75" stroke="#000" stroke-width="2" />
<line x1="281.31" y1="232.30" x2="281.31" y2="236.80" stroke="#000" stroke-width="2" />
<line x1="304.18" y1="446.25" x2="304.18" y2="437.55" stroke="#000" stroke-width="2" />
<line x1="304.18" y1="232.30" x2="304.18" y2="241.00" stroke="#000" stroke-width="2" />
<line x1="327.04" y1="446.25" x2="327.04" y2="441.75" stroke="#000" stroke-width="2" />
<line x1="327.04" y1="232.30" x2="327.04" y2="236.80" stroke="#000" stroke-width="2" />
<line x1="349.91" y1="446.25" x2="349.91" y2="437.55" stroke="#000" stroke-width="2" />
<line x1="349.91" y1="232.30" x2="349.91" y2="241.00" stroke="#000" stroke-width="2" />
<line x1="372.78" y1="446.25" x2="372.78" y2="441.75" stroke="#000" stroke-width="2" />
<line x1="372.78" y1="232.30" x2="372.78" y2="236.80" stroke="#000" stroke-width="2" />
<line x1="395.64" y1="446.25" x2="395.64" y2="437.55" stroke="#000" stroke-width="2" />
<line x1="395.64" y1="232.30" x2="395.64" y2="241.00" stroke="#000" stroke-width="2" />
<line x1="418.51" y1="446.25" x2="418.51" y2="441.75" stroke="#000" stroke-width="2" />
<line x1="418.51" y1="232.30" x2="418.51" y2="236.80" stroke="#000" stroke-width="2" />
<line x1="441.38" y1="446.25" x2="441.38" y2="437.55" stroke="#000" stroke-width="2" />
<line x1="441.38" y1="232.30" x2="441.38" y2="241.00" stroke="#000" stroke-width="2" />
<line x1="75.50" y1="419.50" x2="80.00" y2="419.50" stroke="#000" stroke-width="2" />
<line x1="464.25" y1="419.50" x2="459.75" y2="419.50" stroke="#000" stroke-width="2" />
<line x1="75.50" y1="392.75" x2="84.20" y2="392.75" stroke="#000" stroke-width="2" />
<line x1="464.25" y1="392.75" x2="455.55" y2="392.75" stroke="#000" stroke-width="2" />
<line x1="75.50" y1="366.00" x2="80.00" y2="366.00" stroke="#000" stroke-width="2" />
<line x1="464.25" y1="366.00" x2="459.75" y2="366.00" stroke="#000" stroke-width="2" />
<line x1="75.50" y1="339.25" x2="84.20" y2="339.25" stroke="#000" stroke-width="2" />
<line x1="464.25" y1="339.25" x2="455.55" y2="339.25" stroke="#000" stroke-width="2" />
<line x1="75.50" y1="312.50" x2="80.00" y2="312.50" stroke="#000" stroke-width="2" />
<line x1="464.25" y1="312.50" x2="459.75" y2="312.50" stroke="#000" stroke-width="2" />
<line x1="75.50" y1="285.75" x2="84.20" y2="285.75" stroke="#000" stroke-width="2" />
<line x1="464.25" y1="285.75" x2="455.55" y2="285.75" stroke="#000" stroke-width="2" />
<line x1="75.50" y1="259.00" x2="80.00" y2="259.00" stroke="#000" stroke-width="2" />
<line x1="464.25" y1="259.00" x2="459.75" y2="259.00" stroke="#000" stroke-width="2" />
<g clip-path="url(#cb)">
<line x1="75.50" y1="360.30" x2="464.25" y2="243.75" stroke="#7a0c0c" stroke-width="2.2" />
<line x1="75.50" y1="377.60" x2="464.25" y2="262.50" stroke="#7d1cf2" stroke-width="2.2" />
</g>
<path d="M295.0 311.5V315.5M292.0 311.5H298.0M292.0 315.5H298.0" stroke="#7d1cf2" stroke-width="0.9" fill="none"/>
<path d="M304.2 309.5V313.5M301.2 309.5H307.2M301.2 313.5H307.2" stroke="#7d1cf2" stroke-width="0.9" fill="none"/>
<path d="M313.3 308.0V312.0M310.3 308.0H316.3M310.3 312.0H316.3" stroke="#7d1cf2" stroke-width="0.9" fill="none"/>
<path d="M322.5 303.0V307.0M319.5 303.0H325.5M319.5 307.0H325.5" stroke="#7d1cf2" stroke-width="0.9" fill="none"/>
<path d="M331.6 301.5V305.5M328.6 301.5H334.6M328.6 305.5H334.6" stroke="#7d1cf2" stroke-width="0.9" fill="none"/>
<path d="M340.8 297.0V301.0M337.8 297.0H343.8M337.8 301.0H343.8" stroke="#7d1cf2" stroke-width="0.9" fill="none"/>
<path d="M349.9 292.5V296.5M346.9 292.5H352.9M346.9 296.5H352.9" stroke="#7d1cf2" stroke-width="0.9" fill="none"/>
<path d="M359.1 290.5V294.5M356.1 290.5H362.1M356.1 294.5H362.1" stroke="#7d1cf2" stroke-width="0.9" fill="none"/>
<path d="M368.2 287.6V291.6M365.2 287.6H371.2M365.2 291.6H371.2" stroke="#7d1cf2" stroke-width="0.9" fill="none"/>
<path d="M377.4 282.8V286.8M374.4 282.8H380.4M374.4 286.8H380.4" stroke="#7d1cf2" stroke-width="0.9" fill="none"/>
<path d="M386.5 282.6V286.6M383.5 282.6H389.5M383.5 286.6H389.5" stroke="#7d1cf2" stroke-width="0.9" fill="none"/>
<path d="M395.6 281.0V285.0M392.6 281.0H398.6M392.6 285.0H398.6" stroke="#7d1cf2" stroke-width="0.9" fill="none"/>
<path d="M404.8 275.8V279.8M401.8 275.8H407.8M401.8 279.8H407.8" stroke="#7d1cf2" stroke-width="0.9" fill="none"/>
<path d="M413.9 275.5V279.5M410.9 275.5H416.9M410.9 279.5H416.9" stroke="#7d1cf2" stroke-width="0.9" fill="none"/>
<path d="M423.1 278.5V282.5M420.1 278.5H426.1M420.1 282.5H426.1" stroke="#7d1cf2" stroke-width="0.9" fill="none"/>
<path d="M432.2 270.5V274.5M429.2 270.5H435.2M429.2 274.5H435.2" stroke="#7d1cf2" stroke-width="0.9" fill="none"/>
<path d="M441.4 275.2V282.2M437.4 275.2H445.4M437.4 282.2H445.4" stroke="#7d1cf2" stroke-width="0.9" fill="none"/>
<polygon points="298.26,313.50 292.61,310.27 292.61,316.73" fill="#7d1cf2" stroke="#7d1cf2" stroke-width="0.5"/>
<polygon points="307.41,311.50 301.75,308.27 301.75,314.73" fill="#7d1cf2" stroke="#7d1cf2" stroke-width="0.5"/>
<polygon points="316.55,310.00 310.90,306.77 310.90,313.23" fill="#7d1cf2" stroke="#7d1cf2" stroke-width="0.5"/>
<polygon points="325.70,305.00 320.05,301.77 320.05,308.23" fill="#7d1cf2" stroke="#7d1cf2" stroke-width="0.5"/>
<polygon points="334.85,303.50 329.19,300.27 329.19,306.73" fill="#7d1cf2" stroke="#7d1cf2" stroke-width="0.5"/>
<polygon points="343.99,299.00 338.34,295.77 338.34,302.23" fill="#7d1cf2" stroke="#7d1cf2" stroke-width="0.5"/>
<polygon points="353.14,294.50 347.49,291.27 347.49,297.73" fill="#7d1cf2" stroke="#7d1cf2" stroke-width="0.5"/>
<polygon points="362.29,292.50 356.63,289.27 356.63,295.73" fill="#7d1cf2" stroke="#7d1cf2" stroke-width="0.5"/>
<polygon points="371.43,289.60 365.78,286.37 365.78,292.83" fill="#7d1cf2" stroke="#7d1cf2" stroke-width="0.5"/>
<polygon points="380.58,284.80 374.93,281.57 374.93,288.03" fill="#7d1cf2" stroke="#7d1cf2" stroke-width="0.5"/>
<polygon points="389.73,284.60 384.08,281.37 384.08,287.83" fill="#7d1cf2" stroke="#7d1cf2" stroke-width="0.5"/>
<polygon points="398.88,283.00 393.22,279.77 393.22,286.23" fill="#7d1cf2" stroke="#7d1cf2" stroke-width="0.5"/>
<polygon points="408.02,277.80 402.37,274.57 402.37,281.03" fill="#7d1cf2" stroke="#7d1cf2" stroke-width="0.5"/>
<polygon points="417.17,277.50 411.52,274.27 411.52,280.73" fill="#7d1cf2" stroke="#7d1cf2" stroke-width="0.5"/>
<polygon points="426.32,280.50 420.66,277.27 420.66,283.73" fill="#7d1cf2" stroke="#7d1cf2" stroke-width="0.5"/>
<polygon points="435.46,272.50 429.81,269.27 429.81,275.73" fill="#7d1cf2" stroke="#7d1cf2" stroke-width="0.5"/>
<polygon points="444.61,278.75 438.96,275.52 438.96,281.98" fill="#7d1cf2" stroke="#7d1cf2" stroke-width="0.5"/>
<path d="M258.4 303.4V309.1M254.2 303.4H262.7M254.2 309.1H262.7" stroke="#7a0c0c" stroke-width="0.9" fill="none"/>
<path d="M267.6 310.8V316.4M263.3 310.8H271.8M263.3 316.4H271.8" stroke="#7a0c0c" stroke-width="0.9" fill="none"/>
<path d="M276.7 304.7V310.3M272.5 304.7H281.0M272.5 310.3H281.0" stroke="#7a0c0c" stroke-width="0.9" fill="none"/>
<path d="M285.9 293.6V299.2M281.6 293.6H290.1M281.6 299.2H290.1" stroke="#7a0c0c" stroke-width="0.9" fill="none"/>
<path d="M295.0 283.6V289.2M290.8 283.6H299.3M290.8 289.2H299.3" stroke="#7a0c0c" stroke-width="0.9" fill="none"/>
<path d="M304.2 284.7V290.3M299.9 284.7H308.4M299.9 290.3H308.4" stroke="#7a0c0c" stroke-width="0.9" fill="none"/>
<path d="M313.3 286.4V292.0M309.1 286.4H317.6M309.1 292.0H317.6" stroke="#7a0c0c" stroke-width="0.9" fill="none"/>
<path d="M331.6 278.8V284.4M327.4 278.8H335.9M327.4 284.4H335.9" stroke="#7a0c0c" stroke-width="0.9" fill="none"/>
<path d="M340.8 280.2V285.8M336.5 280.2H345.0M336.5 285.8H345.0" stroke="#7a0c0c" stroke-width="0.9" fill="none"/>
<path d="M349.9 273.8V279.4M345.7 273.8H354.2M345.7 279.4H354.2" stroke="#7a0c0c" stroke-width="0.9" fill="none"/>
<path d="M359.1 275.8V281.4M354.8 275.8H363.3M354.8 281.4H363.3" stroke="#7a0c0c" stroke-width="0.9" fill="none"/>
<path d="M368.2 259.7V265.3M364.0 259.7H372.5M364.0 265.3H372.5" stroke="#7a0c0c" stroke-width="0.9" fill="none"/>
<path d="M377.4 269.7V277.0M373.1 269.7H381.6M373.1 277.0H381.6" stroke="#7a0c0c" stroke-width="0.9" fill="none"/>
<path d="M395.6 248.4V254.0M391.4 248.4H399.9M391.4 254.0H399.9" stroke="#7a0c0c" stroke-width="0.9" fill="none"/>
<path d="M404.8 255.8V261.4M400.5 255.8H409.0M400.5 261.4H409.0" stroke="#7a0c0c" stroke-width="0.9" fill="none"/>
<path d="M413.9 260.8V266.4M409.7 260.8H418.2M409.7 266.4H418.2" stroke="#7a0c0c" stroke-width="0.9" fill="none"/>
<path d="M423.1 258.6V264.2M418.8 258.6H427.3M418.8 264.2H427.3" stroke="#7a0c0c" stroke-width="0.9" fill="none"/>
<polygon points="261.90,306.25 260.17,309.25 256.71,309.25 254.97,306.25 256.71,303.25 260.17,303.25" fill="#7a0c0c" stroke="#7a0c0c" stroke-width="0.5"/>
<polygon points="271.05,313.60 269.32,316.60 265.85,316.60 264.12,313.60 265.85,310.60 269.32,310.60" fill="#7a0c0c" stroke="#7a0c0c" stroke-width="0.5"/>
<polygon points="280.20,307.50 278.47,310.50 275.00,310.50 273.27,307.50 275.00,304.50 278.47,304.50" fill="#7a0c0c" stroke="#7a0c0c" stroke-width="0.5"/>
<polygon points="289.35,296.40 287.61,299.40 284.15,299.40 282.42,296.40 284.15,293.40 287.61,293.40" fill="#7a0c0c" stroke="#7a0c0c" stroke-width="0.5"/>
<polygon points="298.49,286.40 296.76,289.40 293.30,289.40 291.56,286.40 293.30,283.40 296.76,283.40" fill="#7a0c0c" stroke="#7a0c0c" stroke-width="0.5"/>
<polygon points="307.64,287.50 305.91,290.50 302.44,290.50 300.71,287.50 302.44,284.50 305.91,284.50" fill="#7a0c0c" stroke="#7a0c0c" stroke-width="0.5"/>
<polygon points="316.79,289.20 315.05,292.20 311.59,292.20 309.86,289.20 311.59,286.20 315.05,286.20" fill="#7a0c0c" stroke="#7a0c0c" stroke-width="0.5"/>
<polygon points="335.08,281.60 333.35,284.60 329.88,284.60 328.15,281.60 329.88,278.60 333.35,278.60" fill="#7a0c0c" stroke="#7a0c0c" stroke-width="0.5"/>
<polygon points="344.23,283.00 342.50,286.00 339.03,286.00 337.30,283.00 339.03,280.00 342.50,280.00" fill="#7a0c0c" stroke="#7a0c0c" stroke-width="0.5"/>
<polygon points="353.38,276.60 351.64,279.60 348.18,279.60 346.45,276.60 348.18,273.60 351.64,273.60" fill="#7a0c0c" stroke="#7a0c0c" stroke-width="0.5"/>
<polygon points="362.52,278.60 360.79,281.60 357.32,281.60 355.59,278.60 357.32,275.60 360.79,275.60" fill="#7a0c0c" stroke="#7a0c0c" stroke-width="0.5"/>
<polygon points="371.67,262.50 369.94,265.50 366.47,265.50 364.74,262.50 366.47,259.50 369.94,259.50" fill="#7a0c0c" stroke="#7a0c0c" stroke-width="0.5"/>
<polygon points="380.82,272.50 379.08,275.50 375.62,275.50 373.89,272.50 375.62,269.50 379.08,269.50" fill="#7a0c0c" stroke="#7a0c0c" stroke-width="0.5"/>
<polygon points="399.11,251.20 397.38,254.20 393.91,254.20 392.18,251.20 393.91,248.20 397.38,248.20" fill="#7a0c0c" stroke="#7a0c0c" stroke-width="0.5"/>
<polygon points="408.26,258.60 406.52,261.60 403.06,261.60 401.33,258.60 403.06,255.60 406.52,255.60" fill="#7a0c0c" stroke="#7a0c0c" stroke-width="0.5"/>
<polygon points="417.40,263.60 415.67,266.60 412.21,266.60 410.47,263.60 412.21,260.60 415.67,260.60" fill="#7a0c0c" stroke="#7a0c0c" stroke-width="0.5"/>
<polygon points="426.55,261.40 424.82,264.40 421.35,264.40 419.62,261.40 421.35,258.40 424.82,258.40" fill="#7a0c0c" stroke="#7a0c0c" stroke-width="0.5"/>
<rect x="75.50" y="232.30" width="388.75" height="213.95" fill="none" stroke="#000" stroke-width="1.9"/>
<text x="75.50" y="469.80" font-size="16" text-anchor="middle" fill="#000" stroke="#000" >0</text>
<text x="121.23" y="469.80" font-size="16" text-anchor="middle" fill="#000" stroke="#000" >5</text>
<text x="166.97" y="469.80" font-size="16" text-anchor="middle" fill="#000" stroke="#000" >10</text>
<text x="212.71" y="469.80" font-size="16" text-anchor="middle" fill="#000" stroke="#000" >15</text>
<text x="258.44" y="469.80" font-size="16" text-anchor="middle" fill="#000" stroke="#000" >20</text>
<text x="304.18" y="469.80" font-size="16" text-anchor="middle" fill="#000" stroke="#000" >25</text>
<text x="349.91" y="469.80" font-size="16" text-anchor="middle" fill="#000" stroke="#000" >30</text>
<text x="395.64" y="469.80" font-size="16" text-anchor="middle" fill="#000" stroke="#000" >35</text>
<text x="441.38" y="469.80" font-size="16" text-anchor="middle" fill="#000" stroke="#000" >40</text>
<text x="64.80" y="451.35" font-size="16" text-anchor="end" fill="#000" stroke="#000" >0</text>
<text x="64.80" y="397.85" font-size="16" text-anchor="end" fill="#000" stroke="#000" >50</text>
<text x="64.80" y="344.35" font-size="16" text-anchor="end" fill="#000" stroke="#000" >100</text>
<text x="64.80" y="290.85" font-size="16" text-anchor="end" fill="#000" stroke="#000" >150</text>
<text x="64.80" y="237.35" font-size="16" text-anchor="end" fill="#000" stroke="#000" >200</text>
<text x="0.30" y="254.40" font-size="22.3" text-anchor="start" fill="#000" stroke="#000" >(b)</text>
<g transform="translate(29.60,339.50) rotate(-90)" fill="#111" stroke="#111" style="font-kerning:none;white-space:pre">
<text transform="translate(-35.91,0.00) skewX(-13) scale(0.84,1)" font-size="20.00">Δ</text>
<text xml:space="preserve" x="-25.49" y="0.00" font-size="20.00" font-style="italic">H</text>
<text xml:space="preserve" x="-11.04" y="0.00" font-size="20.00" > (mT)</text>
</g>
<text x="379.00" y="419.20" font-size="20" text-anchor="start" fill="#111" stroke="#111" >Co/Pd</text>
<g transform="translate(97.50,262.80)" fill="#111" stroke="#111" style="font-kerning:none;white-space:pre">
<text xml:space="preserve" x="0.00" y="0.00" font-size="20.00" >Fluence (He</text>
<text xml:space="preserve" x="108.94" y="-8.20" font-size="13.60" >+</text>
<text xml:space="preserve" x="116.88" y="0.00" font-size="20.00" >/cm</text>
<text xml:space="preserve" x="149.09" y="-8.20" font-size="13.60" >2</text>
<text xml:space="preserve" x="156.66" y="0.00" font-size="20.00" >)</text>
</g>
<polygon points="111.12,282.00 105.14,278.58 105.14,285.42" fill="#7d1cf2" stroke="#7d1cf2" stroke-width="0.5"/>
<g transform="translate(135.30,288.30)" fill="#7d1cf2" stroke="#7d1cf2" style="font-kerning:none;white-space:pre">
<text xml:space="preserve" x="0.00" y="0.00" font-size="18.00" >20×10</text>
<text xml:space="preserve" x="50.55" y="-7.38" font-size="12.24" >14</text>
</g>
<circle cx="107.70" cy="307.00" r="2.75" fill="#7a0c0c" stroke="#7a0c0c" stroke-width="0.8"/>
<g transform="translate(135.30,313.20)" fill="#7a0c0c" stroke="#7a0c0c" style="font-kerning:none;white-space:pre">
<text xml:space="preserve" x="0.00" y="0.00" font-size="18.00" >30×10</text>
<text xml:space="preserve" x="50.55" y="-7.38" font-size="12.24" >14</text>
</g>
<text x="269.70" y="491.30" font-size="20" text-anchor="middle" fill="#111" stroke="#111" >f (GHz)</text>
<polyline fill="none" stroke="#ee1018" stroke-width="1.5" points="107.50,608.75 120.48,650.75 133.46,688.25 146.44,657.50 159.42,655.75 172.40,669.25 237.30,656.50 302.20,653.50 432.00,716.50"/>
<path d="M107.5 588.8V628.8M102.8 588.8H112.2M102.8 628.8H112.2" stroke="#ee1018" stroke-width="1.0" fill="none"/>
<path d="M120.5 633.0V668.8M115.7 633.0H125.2M115.7 668.8H125.2" stroke="#ee1018" stroke-width="1.0" fill="none"/>
<path d="M133.5 675.5V702.0M128.7 675.5H138.2M128.7 702.0H138.2" stroke="#ee1018" stroke-width="1.0" fill="none"/>
<path d="M146.4 643.8V671.2M141.7 643.8H151.2M141.7 671.2H151.2" stroke="#ee1018" stroke-width="1.0" fill="none"/>
<path d="M159.4 650.5V660.0M154.7 650.5H164.2M154.7 660.0H164.2" stroke="#ee1018" stroke-width="1.0" fill="none"/>
<path d="M172.4 656.8V682.5M167.7 656.8H177.2M167.7 682.5H177.2" stroke="#ee1018" stroke-width="1.0" fill="none"/>
<path d="M237.3 653.0V660.0M232.6 653.0H242.1M232.6 660.0H242.1" stroke="#ee1018" stroke-width="1.0" fill="none"/>
<path d="M302.2 646.0V660.0M297.5 646.0H307.0M297.5 660.0H307.0" stroke="#ee1018" stroke-width="1.0" fill="none"/>
<path d="M432.0 710.0V723.5M427.2 710.0H436.8M427.2 723.5H436.8" stroke="#ee1018" stroke-width="1.0" fill="none"/>
<rect x="105.10" y="606.35" width="4.80" height="4.80" fill="#fff" stroke="#ee1018" stroke-width="0.9"/>
<rect x="118.08" y="648.35" width="4.80" height="4.80" fill="#fff" stroke="#ee1018" stroke-width="0.9"/>
<rect x="131.06" y="685.85" width="4.80" height="4.80" fill="#fff" stroke="#ee1018" stroke-width="0.9"/>
<rect x="144.04" y="655.10" width="4.80" height="4.80" fill="#fff" stroke="#ee1018" stroke-width="0.9"/>
<rect x="157.02" y="653.35" width="4.80" height="4.80" fill="#fff" stroke="#ee1018" stroke-width="0.9"/>
<rect x="170.00" y="666.85" width="4.80" height="4.80" fill="#fff" stroke="#ee1018" stroke-width="0.9"/>
<rect x="234.90" y="654.10" width="4.80" height="4.80" fill="#fff" stroke="#ee1018" stroke-width="0.9"/>
<rect x="299.80" y="651.10" width="4.80" height="4.80" fill="#fff" stroke="#ee1018" stroke-width="0.9"/>
<rect x="429.60" y="714.10" width="4.80" height="4.80" fill="#fff" stroke="#ee1018" stroke-width="0.9"/>
<polyline fill="none" stroke="#ee1018" stroke-width="1.1" points="107.50,538.00 120.48,540.50 133.46,548.00 146.44,585.00 159.42,615.50 172.40,625.00 237.30,668.50 302.20,690.00 432.00,662.00"/>
<path d="M107.5 527.7V548.3M102.8 527.7H112.2M102.8 548.3H112.2" stroke="#ee1018" stroke-width="1.0" fill="none"/>
<path d="M120.5 531.0V550.0M115.7 531.0H125.2M115.7 550.0H125.2" stroke="#ee1018" stroke-width="1.0" fill="none"/>
<path d="M133.5 541.5V555.0M128.7 541.5H138.2M128.7 555.0H138.2" stroke="#ee1018" stroke-width="1.0" fill="none"/>
<path d="M146.4 578.7V592.0M141.7 578.7H151.2M141.7 592.0H151.2" stroke="#ee1018" stroke-width="1.0" fill="none"/>
<path d="M159.4 612.5V618.5M154.7 612.5H164.2M154.7 618.5H164.2" stroke="#ee1018" stroke-width="1.0" fill="none"/>
<path d="M172.4 619.0V631.0M167.7 619.0H177.2M167.7 631.0H177.2" stroke="#ee1018" stroke-width="1.0" fill="none"/>
<path d="M237.3 666.5V670.5M232.6 666.5H242.1M232.6 670.5H242.1" stroke="#ee1018" stroke-width="1.0" fill="none"/>
<path d="M302.2 687.5V692.5M297.5 687.5H307.0M297.5 692.5H307.0" stroke="#ee1018" stroke-width="1.0" fill="none"/>
<path d="M432.0 660.0V664.0M427.2 660.0H436.8M427.2 664.0H436.8" stroke="#ee1018" stroke-width="1.0" fill="none"/>
<rect x="105.10" y="535.60" width="4.80" height="4.80" fill="#ee1018" stroke="#ee1018" stroke-width="0.9"/>
<rect x="118.08" y="538.10" width="4.80" height="4.80" fill="#ee1018" stroke="#ee1018" stroke-width="0.9"/>
<rect x="131.06" y="545.60" width="4.80" height="4.80" fill="#ee1018" stroke="#ee1018" stroke-width="0.9"/>
<rect x="144.04" y="582.60" width="4.80" height="4.80" fill="#ee1018" stroke="#ee1018" stroke-width="0.9"/>
<rect x="157.02" y="613.10" width="4.80" height="4.80" fill="#ee1018" stroke="#ee1018" stroke-width="0.9"/>
<rect x="170.00" y="622.60" width="4.80" height="4.80" fill="#ee1018" stroke="#ee1018" stroke-width="0.9"/>
<rect x="234.90" y="666.10" width="4.80" height="4.80" fill="#ee1018" stroke="#ee1018" stroke-width="0.9"/>
<rect x="299.80" y="687.60" width="4.80" height="4.80" fill="#ee1018" stroke="#ee1018" stroke-width="0.9"/>
<rect x="429.60" y="659.60" width="4.80" height="4.80" fill="#ee1018" stroke="#ee1018" stroke-width="0.9"/>
<polyline fill="none" stroke="#111" stroke-width="1.5" points="237.30,573.25 302.20,570.00"/>
<path d="M237.3 561.2V585.8M232.6 561.2H242.1M232.6 585.8H242.1" stroke="#111" stroke-width="1.0" fill="none"/>
<path d="M302.2 545.5V593.3M297.5 545.5H307.0M297.5 593.3H307.0" stroke="#111" stroke-width="1.0" fill="none"/>
<circle cx="237.30" cy="573.25" r="2.8" fill="#fff" stroke="#111" stroke-width="0.9"/>
<circle cx="302.20" cy="570.00" r="2.8" fill="#fff" stroke="#111" stroke-width="0.9"/>
<polyline fill="none" stroke="#111" stroke-width="1.1" points="237.30,632.75 302.20,605.00"/>
<path d="M237.3 626.8V639.2M232.6 626.8H242.1M232.6 639.2H242.1" stroke="#111" stroke-width="1.0" fill="none"/>
<path d="M302.2 595.5V617.0M297.5 595.5H307.0M297.5 617.0H307.0" stroke="#111" stroke-width="1.0" fill="none"/>
<circle cx="237.30" cy="632.75" r="2.8" fill="#111" stroke="#111" stroke-width="0.9"/>
<circle cx="302.20" cy="605.00" r="2.8" fill="#111" stroke="#111" stroke-width="0.9"/>
<rect x="75.70" y="506.25" width="389.30" height="232.25" fill="none" stroke="#000" stroke-width="1.9"/>
<line x1="107.50" y1="738.50" x2="107.50" y2="729.80" stroke="#000" stroke-width="2" />
<line x1="107.50" y1="506.25" x2="107.50" y2="514.95" stroke="#000" stroke-width="2" />
<text x="107.50" y="762.20" font-size="16" text-anchor="middle" fill="#000" stroke="#000" >0</text>
<line x1="139.95" y1="738.50" x2="139.95" y2="734.00" stroke="#000" stroke-width="2" />
<line x1="139.95" y1="506.25" x2="139.95" y2="510.75" stroke="#000" stroke-width="2" />
<line x1="172.40" y1="738.50" x2="172.40" y2="729.80" stroke="#000" stroke-width="2" />
<line x1="172.40" y1="506.25" x2="172.40" y2="514.95" stroke="#000" stroke-width="2" />
<text x="172.40" y="762.20" font-size="16" text-anchor="middle" fill="#000" stroke="#000" >10</text>
<line x1="204.85" y1="738.50" x2="204.85" y2="734.00" stroke="#000" stroke-width="2" />
<line x1="204.85" y1="506.25" x2="204.85" y2="510.75" stroke="#000" stroke-width="2" />
<line x1="237.30" y1="738.50" x2="237.30" y2="729.80" stroke="#000" stroke-width="2" />
<line x1="237.30" y1="506.25" x2="237.30" y2="514.95" stroke="#000" stroke-width="2" />
<text x="237.30" y="762.20" font-size="16" text-anchor="middle" fill="#000" stroke="#000" >20</text>
<line x1="269.75" y1="738.50" x2="269.75" y2="734.00" stroke="#000" stroke-width="2" />
<line x1="269.75" y1="506.25" x2="269.75" y2="510.75" stroke="#000" stroke-width="2" />
<line x1="302.20" y1="738.50" x2="302.20" y2="729.80" stroke="#000" stroke-width="2" />
<line x1="302.20" y1="506.25" x2="302.20" y2="514.95" stroke="#000" stroke-width="2" />
<text x="302.20" y="762.20" font-size="16" text-anchor="middle" fill="#000" stroke="#000" >30</text>
<line x1="334.65" y1="738.50" x2="334.65" y2="734.00" stroke="#000" stroke-width="2" />
<line x1="334.65" y1="506.25" x2="334.65" y2="510.75" stroke="#000" stroke-width="2" />
<line x1="367.10" y1="738.50" x2="367.10" y2="729.80" stroke="#000" stroke-width="2" />
<line x1="367.10" y1="506.25" x2="367.10" y2="514.95" stroke="#000" stroke-width="2" />
<text x="367.10" y="762.20" font-size="16" text-anchor="middle" fill="#000" stroke="#000" >40</text>
<line x1="399.55" y1="738.50" x2="399.55" y2="734.00" stroke="#000" stroke-width="2" />
<line x1="399.55" y1="506.25" x2="399.55" y2="510.75" stroke="#000" stroke-width="2" />
<line x1="432.00" y1="738.50" x2="432.00" y2="729.80" stroke="#000" stroke-width="2" />
<line x1="432.00" y1="506.25" x2="432.00" y2="514.95" stroke="#000" stroke-width="2" />
<text x="432.00" y="762.20" font-size="16" text-anchor="middle" fill="#000" stroke="#000" >50</text>
<line x1="75.70" y1="705.50" x2="84.40" y2="705.50" stroke="#000" stroke-width="2" />
<line x1="75.70" y1="672.25" x2="80.20" y2="672.25" stroke="#000" stroke-width="2" />
<line x1="75.70" y1="639.00" x2="84.40" y2="639.00" stroke="#000" stroke-width="2" />
<line x1="75.70" y1="605.75" x2="80.20" y2="605.75" stroke="#000" stroke-width="2" />
<line x1="75.70" y1="572.50" x2="84.40" y2="572.50" stroke="#000" stroke-width="2" />
<line x1="75.70" y1="539.25" x2="80.20" y2="539.25" stroke="#000" stroke-width="2" />
<text x="64.80" y="710.60" font-size="16" text-anchor="end" fill="#000" stroke="#000" >0.02</text>
<text x="64.80" y="644.10" font-size="16" text-anchor="end" fill="#000" stroke="#000" >0.03</text>
<text x="64.80" y="577.60" font-size="16" text-anchor="end" fill="#000" stroke="#000" >0.04</text>
<text x="64.80" y="511.35" font-size="16" text-anchor="end" fill="#000" stroke="#000" >0.05</text>
<rect x="333" y="519" width="128.8" height="94" fill="#fff"/>
<text x="474.00" y="743.60" font-size="16" text-anchor="start" fill="#000" stroke="#000" >0</text>
<text x="474.00" y="710.46" font-size="16" text-anchor="start" fill="#000" stroke="#000" >20</text>
<text x="474.00" y="677.32" font-size="16" text-anchor="start" fill="#000" stroke="#000" >40</text>
<text x="474.00" y="644.18" font-size="16" text-anchor="start" fill="#000" stroke="#000" >60</text>
<text x="474.00" y="611.04" font-size="16" text-anchor="start" fill="#000" stroke="#000" >80</text>
<text x="474.00" y="577.90" font-size="16" text-anchor="start" fill="#000" stroke="#000" >100</text>
<text x="474.00" y="544.76" font-size="16" text-anchor="start" fill="#000" stroke="#000" >120</text>
<text x="474.00" y="511.62" font-size="16" text-anchor="start" fill="#000" stroke="#000" >140</text>
<line x1="335.50" y1="530.00" x2="372.00" y2="530.00" stroke="#111" stroke-width="1.1" />
<circle cx="354.5" cy="530.00" r="2.8" fill="#fff" stroke="#111" stroke-width="1"/>
<g transform="translate(379.00,535.60)" fill="#111" stroke="#111" style="font-kerning:none;white-space:pre">
<text x="0.00" y="0.00" font-size="17.92" font-style="italic" style="font-family:'Liberation Serif','DejaVu Serif',serif">α</text>
<text xml:space="preserve" x="9.41" y="0.00" font-size="16.00" >–Co/Pd</text>
</g>
<line x1="335.50" y1="552.00" x2="372.00" y2="552.00" stroke="#111" stroke-width="1.1" />
<circle cx="354.5" cy="552.00" r="2.8" fill="#111" stroke="#111" stroke-width="1"/>
<g transform="translate(379.00,557.60)" fill="#111" stroke="#111" style="font-kerning:none;white-space:pre">
<text transform="translate(0.64,0.00) skewX(-13) scale(1.0,1)" font-size="16.00">Δ</text>
<text xml:space="preserve" x="10.69" y="0.00" font-size="16.00" font-style="italic">H</text>
<text xml:space="preserve" x="22.24" y="4.00" font-size="12.00" >0</text>
<text xml:space="preserve" x="28.92" y="0.00" font-size="16.00" >-Co/Pd</text>
</g>
<line x1="335.50" y1="579.50" x2="372.00" y2="579.50" stroke="#ee1018" stroke-width="1.1" />
<rect x="351.90" y="576.90" width="5.20" height="5.20" fill="#fff" stroke="#ee1018" stroke-width="1"/>
<g transform="translate(379.00,585.10)" fill="#ee1018" stroke="#ee1018" style="font-kerning:none;white-space:pre">
<text x="0.00" y="0.00" font-size="17.92" font-style="italic" style="font-family:'Liberation Serif','DejaVu Serif',serif">α</text>
<text xml:space="preserve" x="9.41" y="0.00" font-size="16.00" >–Co/Ni</text>
</g>
<line x1="335.50" y1="601.60" x2="372.00" y2="601.60" stroke="#ee1018" stroke-width="1.1" />
<rect x="351.90" y="599.00" width="5.20" height="5.20" fill="#ee1018" stroke="#ee1018" stroke-width="1"/>
<g transform="translate(379.00,607.20)" fill="#ee1018" stroke="#ee1018" style="font-kerning:none;white-space:pre">
<text transform="translate(0.64,0.00) skewX(-13) scale(1.0,1)" font-size="16.00">Δ</text>
<text xml:space="preserve" x="10.69" y="0.00" font-size="16.00" font-style="italic">H</text>
<text xml:space="preserve" x="22.24" y="4.00" font-size="12.00" >0</text>
<text xml:space="preserve" x="28.92" y="0.00" font-size="16.00" >-Co/Ni</text>
</g>
<line x1="465.00" y1="721.93" x2="460.50" y2="721.93" stroke="#000" stroke-width="2" />
<line x1="465.00" y1="705.36" x2="456.30" y2="705.36" stroke="#000" stroke-width="2" />
<line x1="465.00" y1="688.79" x2="460.50" y2="688.79" stroke="#000" stroke-width="2" />
<line x1="465.00" y1="672.22" x2="456.30" y2="672.22" stroke="#000" stroke-width="2" />
<line x1="465.00" y1="655.65" x2="460.50" y2="655.65" stroke="#000" stroke-width="2" />
<line x1="465.00" y1="639.08" x2="456.30" y2="639.08" stroke="#000" stroke-width="2" />
<line x1="465.00" y1="622.51" x2="460.50" y2="622.51" stroke="#000" stroke-width="2" />
<line x1="465.00" y1="605.94" x2="456.30" y2="605.94" stroke="#000" stroke-width="2" />
<line x1="465.00" y1="589.37" x2="460.50" y2="589.37" stroke="#000" stroke-width="2" />
<line x1="465.00" y1="572.80" x2="456.30" y2="572.80" stroke="#000" stroke-width="2" />
<line x1="465.00" y1="556.23" x2="460.50" y2="556.23" stroke="#000" stroke-width="2" />
<line x1="465.00" y1="539.66" x2="456.30" y2="539.66" stroke="#000" stroke-width="2" />
<line x1="465.00" y1="523.09" x2="460.50" y2="523.09" stroke="#000" stroke-width="2" />
<text x="0.30" y="527.70" font-size="22.3" text-anchor="start" fill="#000" stroke="#000" >(c)</text>
<g transform="translate(24.90,621.60) rotate(-90)" fill="#111" stroke="#111" style="font-kerning:none;white-space:pre">
<text x="-7.20" y="0.00" font-size="27.44" font-style="italic" style="font-family:'Liberation Serif','DejaVu Serif',serif">α</text>
</g>
<g transform="translate(513.20,623.00) rotate(-90)" fill="#111" stroke="#111" style="font-kerning:none;white-space:pre">
<text transform="translate(-40.08,0.00) skewX(-13) scale(0.84,1)" font-size="20.00">Δ</text>
<text xml:space="preserve" x="-29.66" y="0.00" font-size="20.00" font-style="italic">H</text>
<text xml:space="preserve" x="-15.22" y="5.00" font-size="15.00" >0</text>
<text xml:space="preserve" x="-6.87" y="0.00" font-size="20.00" > (mT)</text>
</g>
<g transform="translate(270.00,780.80)" fill="#111" stroke="#111" style="font-kerning:none;white-space:pre">
<text xml:space="preserve" x="-103.12" y="0.00" font-size="20.00" >Fluence (10</text>
<text xml:space="preserve" x="2.49" y="-8.20" font-size="13.60" >14</text>
<text xml:space="preserve" x="17.62" y="0.00" font-size="20.00" > He</text>
<text xml:space="preserve" x="48.74" y="-8.20" font-size="13.60" >+</text>
<text xml:space="preserve" x="56.68" y="0.00" font-size="20.00" >/cm</text>
<text xml:space="preserve" x="88.90" y="-8.20" font-size="13.60" >2</text>
<text xml:space="preserve" x="96.46" y="0.00" font-size="20.00" >)</text>
</g>
</svg></body></html>
